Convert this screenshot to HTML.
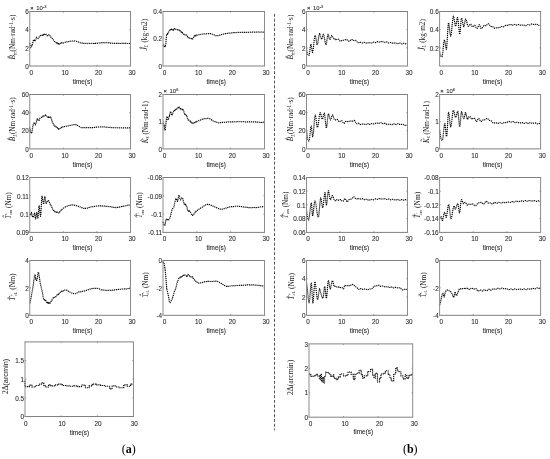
<!DOCTYPE html><html><head><meta charset="utf-8"><style>
html,body{margin:0;padding:0;background:#fff;}svg{display:block}
.h{stroke:#808080;stroke-width:1;fill:none}.v{stroke:#8c8c8c;stroke-width:1;fill:none}.t{stroke:#808080;stroke-width:0.8;fill:none}
.c{fill:none;stroke:#000;stroke-width:1.15;stroke-dasharray:1.2 0.8;stroke-linejoin:round}
.yl{font-family:'Liberation Sans',Arial,sans-serif;font-size:6.4px;fill:#2a2a2a;stroke:#2a2a2a;stroke-width:0.08px;text-anchor:end}.xl{font-family:'Liberation Sans',Arial,sans-serif;font-size:6.4px;fill:#2a2a2a;stroke:#2a2a2a;stroke-width:0.08px;text-anchor:middle}.ml{font-family:'Liberation Sans',Arial,sans-serif;font-size:6.4px;fill:#2a2a2a;stroke:#2a2a2a;stroke-width:0.08px}
.lab{font-family:'Liberation Serif','Times New Roman',serif;fill:#1e1e1e}
.cap{font-family:'Liberation Serif','Times New Roman',serif;font-size:12px;fill:#000}
</style></head><body><svg width="550" height="459" viewBox="0 0 550 459">
<rect width="550" height="459" fill="#fff"/>
<polyline points="29.75,43.09 30.09,45.61 30.42,46.63 30.76,47.40 30.76,47.63 31.09,47.06 31.43,46.58 31.77,45.63 31.77,45.81 32.10,45.11 32.44,44.02 32.74,43.11 32.77,42.63 33.11,41.27 33.44,40.43 33.78,40.31 33.95,39.58 34.12,39.82 34.45,40.42 34.79,39.82 35.12,40.47 35.19,40.79 35.46,39.88 35.80,39.34 36.13,38.65 36.47,37.17 36.70,37.32 36.80,37.54 37.14,37.73 37.47,37.97 37.81,38.13 38.15,38.56 38.48,38.22 38.82,37.74 39.15,36.94 39.49,36.72 39.83,36.27 40.16,35.69 40.50,35.78 40.83,35.40 41.17,35.47 41.50,35.29 41.84,35.48 42.18,35.12 42.28,35.17 42.51,35.32 42.85,34.91 43.18,35.22 43.52,34.42 43.86,34.78 44.19,34.37 44.53,34.27 44.86,34.38 45.20,34.23 45.37,34.13 45.53,33.79 45.87,34.06 46.21,34.91 46.54,35.06 46.88,35.46 47.21,35.80 47.55,35.51 47.89,34.83 48.22,34.92 48.56,35.04 48.89,34.62 49.09,35.26 49.23,35.27 49.56,35.46 49.90,35.62 50.24,36.54 50.57,36.49 50.91,37.12 50.91,37.26 51.24,37.87 51.58,37.95 51.92,37.94 52.25,38.43 52.59,38.74 52.79,38.93 52.92,38.97 53.26,39.67 53.59,40.22 53.93,41.04 54.27,41.52 54.60,41.62 54.67,41.62 54.94,42.09 55.27,42.37 55.61,42.33 55.95,42.58 56.28,42.84 56.62,42.17 56.95,43.08 57.12,42.64 57.29,42.92 57.62,43.49 57.96,43.73 58.30,43.50 58.63,44.17 58.97,43.72 58.97,43.98 59.30,44.28 59.64,43.67 59.97,43.50 60.31,43.29 60.65,43.17 60.85,43.07 60.98,42.39 61.32,42.77 61.65,42.80 61.99,42.44 62.33,42.87 62.66,42.93 63.00,43.13 63.33,42.94 63.67,42.73 64.00,42.70 64.34,42.71 64.68,42.49 65.01,42.39 65.35,42.35 65.68,42.14 66.02,42.17 66.36,42.10 66.69,41.84 67.03,41.87 67.36,41.85 67.70,41.81 68.03,41.58 68.37,41.49 68.71,41.58 69.04,41.52 69.38,41.31 69.71,41.32 70.05,41.34 70.39,41.34 70.72,41.16 71.06,41.24 71.39,41.24 71.73,41.15 72.06,41.04 72.40,40.99 72.74,41.02 73.07,41.12 73.41,40.94 73.74,40.92 74.08,40.99 74.42,40.92 74.75,40.96 75.09,40.96 75.42,41.13 75.76,41.25 76.09,41.27 76.43,41.30 76.77,41.44 77.10,41.59 77.44,41.76 77.44,41.77 77.77,41.69 78.11,41.75 78.45,42.05 78.78,42.20 79.12,42.23 79.45,42.43 79.79,42.58 80.12,42.65 80.46,42.84 80.80,42.76 81.13,42.91 81.47,43.00 81.80,43.02 82.14,43.26 82.48,43.11 82.81,43.31 83.15,43.22 83.48,43.33 83.82,43.38 84.16,43.36 84.49,43.46 84.83,43.48 85.16,43.43 85.50,43.53 85.83,43.40 86.17,43.40 86.51,43.44 86.84,43.45 87.18,43.41 87.51,43.57 87.85,43.55 88.19,43.38 88.52,43.44 88.86,43.41 89.19,43.46 89.53,43.42 89.86,43.47 90.20,43.57 90.54,43.45 90.87,43.51 91.21,43.49 91.54,43.53 91.88,43.37 92.22,43.53 92.55,43.57 92.89,43.50 93.22,43.43 93.56,43.51 93.89,43.52 94.23,43.51 94.23,43.39 94.57,43.58 94.90,43.56 95.24,43.43 95.57,43.44 95.91,43.29 96.25,43.48 96.58,43.40 96.92,43.32 97.25,43.31 97.59,43.14 97.92,43.12 98.26,43.06 98.60,43.09 98.93,42.93 99.27,43.06 99.60,42.91 99.94,42.86 100.27,42.74 100.61,42.83 100.95,42.82 101.28,42.74 101.62,42.61 101.95,42.71 102.29,42.54 102.63,42.67 102.96,42.60 103.30,42.52 103.63,42.57 103.97,42.60 104.31,42.52 104.64,42.66 104.98,42.58 105.31,42.70 105.65,42.71 105.98,42.57 106.32,42.71 106.66,42.67 106.99,42.80 107.33,42.78 107.66,42.79 108.00,42.92 108.34,42.77 108.67,42.92 109.01,42.90 109.34,42.87 109.68,43.06 110.01,43.05 110.35,43.16 110.69,43.13 111.02,43.10 111.36,43.27 111.69,43.10 112.03,43.11 112.37,43.29 112.70,43.23 113.04,43.24 113.37,43.37 113.71,43.25 114.04,43.39 114.38,43.34 114.72,43.27 115.05,43.22 115.39,43.27 115.72,43.44 116.06,43.31 116.39,43.27 116.73,43.30 117.07,43.44 117.40,43.28 117.74,43.43 118.07,43.29 118.41,43.48 118.75,43.39 119.08,43.28 119.42,43.49 119.75,43.36 120.09,43.45 120.42,43.41 120.76,43.32 121.10,43.32 121.43,43.34 121.77,43.34 122.10,43.32 122.44,43.33 122.78,43.53 123.11,43.34 123.45,43.44 123.78,43.36 124.12,43.38 124.46,43.51 124.79,43.55 125.13,43.45 125.46,43.34 125.80,43.57 126.13,43.36 126.47,43.44 126.81,43.47 127.14,43.55 127.48,43.54 127.81,43.49 128.15,43.45 128.49,43.55 128.82,43.55 129.16,43.56 129.49,43.52 129.83,43.38 130.16,43.43 130.50,43.47" class="c"/>
<path d="M29.25 11.50H131.00 M29.25 66.00H131.00" class="h"/>
<path d="M29.75 11.50V66.00 M130.50 11.50V66.00" class="v"/>
<path d="M63.33 11.50v1.2M63.33 66.00v-1.2M96.92 11.50v1.2M96.92 66.00v-1.2M29.75 47.83h1.2M130.50 47.83h-1.2M29.75 29.67h1.2M130.50 29.67h-1.2" class="t"/>
<text x="28.85" y="68.70" class="yl">0</text>
<text x="28.85" y="50.53" class="yl">2</text>
<text x="28.85" y="32.37" class="yl">4</text>
<text x="28.85" y="14.20" class="yl">6</text>
<text x="31.35" y="75.00" class="xl">0</text>
<text x="64.93" y="75.00" class="xl">10</text>
<text x="98.52" y="75.00" class="xl">20</text>
<text x="132.10" y="75.00" class="xl">30</text>
<text x="82.53" y="84.00" class="xl">time(s)</text>
<text x="30.35" y="10.00" class="ml" style="font-size:5.9px">&#215;<tspan dx="0.9"> 10</tspan><tspan font-size="4.0px" dy="-2.3">-3</tspan></text>
<text id="labA1" transform="translate(15.45 37.10) rotate(-90)" class="lab" style="font-size:7.22px" text-anchor="middle"><tspan font-style="italic">B&#x302;</tspan><tspan font-size="70%" dy="1.3" font-style="italic">m</tspan><tspan dy="-1.3">(Nm&#183;rad</tspan><tspan font-size="70%" dy="-2.5">-1</tspan><tspan dy="2.5">&#183;s)</tspan></text>
<polyline points="163.00,44.75 163.34,45.16 163.68,44.89 163.85,45.44 164.01,45.47 164.35,46.80 164.69,46.92 164.73,47.18 165.03,46.62 165.37,46.09 165.47,46.50 165.71,44.46 166.04,40.96 166.38,36.72 166.59,35.07 166.72,35.42 167.06,34.17 167.40,34.46 167.74,33.29 167.84,33.73 168.07,32.82 168.41,32.20 168.75,31.93 169.09,30.75 169.43,30.31 169.70,30.11 169.77,29.50 170.10,29.96 170.44,29.86 170.78,29.04 171.12,29.30 171.46,29.02 171.56,29.43 171.80,28.82 172.13,29.38 172.47,29.81 172.81,29.93 173.15,29.50 173.42,30.19 173.49,29.65 173.83,29.95 174.16,29.28 174.50,28.59 174.84,28.89 174.91,28.94 175.18,28.94 175.52,29.47 175.86,29.21 176.19,29.52 176.53,29.58 176.87,29.93 177.21,29.80 177.55,29.76 177.89,29.86 178.22,29.69 178.36,29.45 178.56,29.89 178.90,29.86 179.24,30.25 179.58,30.96 179.92,30.58 180.25,31.24 180.25,31.25 180.59,31.14 180.93,31.52 181.27,32.19 181.61,31.85 181.95,32.43 182.08,32.65 182.28,32.40 182.62,33.35 182.96,33.43 183.30,33.72 183.64,34.24 183.98,34.19 184.31,34.55 184.65,34.23 184.99,34.87 185.33,34.58 185.67,34.36 186.01,34.61 186.34,35.13 186.41,35.08 186.68,35.00 187.02,35.36 187.36,35.99 187.70,37.14 188.04,36.84 188.27,37.74 188.38,37.76 188.71,37.31 189.05,37.52 189.39,37.79 189.73,38.09 190.07,38.34 190.41,38.57 190.74,38.20 191.08,38.41 191.42,38.93 191.76,39.17 192.00,39.30 192.10,38.79 192.44,38.99 192.77,38.72 193.11,38.09 193.45,37.53 193.79,37.09 194.13,36.84 194.47,35.76 194.80,36.32 195.14,35.54 195.48,35.42 195.72,35.44 195.82,35.85 196.16,35.41 196.50,35.08 196.83,35.08 197.17,35.11 197.51,35.01 197.85,34.79 198.19,34.74 198.53,34.71 198.86,34.61 199.20,34.63 199.54,34.51 199.88,34.53 200.22,34.57 200.56,34.50 200.89,34.29 201.23,34.27 201.57,34.28 201.91,34.29 202.25,34.19 202.59,34.11 202.92,34.09 203.26,34.02 203.60,34.13 203.94,34.06 204.28,33.96 204.62,33.99 204.95,33.91 205.29,33.88 205.63,33.82 205.63,33.84 205.97,33.92 206.31,33.85 206.64,33.82 206.98,33.63 207.32,33.68 207.66,33.62 208.00,33.53 208.34,33.58 208.68,33.49 209.01,33.52 209.35,33.64 209.35,33.61 209.69,33.63 210.03,33.53 210.37,33.61 210.71,33.66 211.04,33.77 211.38,33.87 211.72,34.18 212.06,34.28 212.40,34.24 212.74,34.36 213.07,34.63 213.41,34.66 213.75,34.75 214.09,34.93 214.43,35.05 214.76,35.29 215.10,35.47 215.44,35.56 215.78,35.73 216.12,35.64 216.46,35.78 216.80,35.85 217.13,35.64 217.47,35.68 217.81,35.66 218.15,35.53 218.49,35.59 218.82,35.40 219.16,35.31 219.50,35.30 219.84,35.00 220.18,35.08 220.52,34.81 220.86,34.75 221.19,34.66 221.53,34.54 221.87,34.34 222.21,34.29 222.55,34.20 222.88,34.24 223.22,34.14 223.56,33.99 223.90,34.00 224.24,33.93 224.58,33.77 224.91,33.66 225.25,33.72 225.59,33.60 225.93,33.49 226.27,33.66 226.61,33.60 226.95,33.46 227.28,33.43 227.62,33.40 227.96,33.41 228.30,33.26 228.64,33.24 228.98,33.12 229.31,33.08 229.65,33.10 229.99,33.00 230.33,32.91 230.67,32.95 231.00,33.00 231.34,32.86 231.68,32.95 232.02,32.88 232.36,32.84 232.70,32.86 233.04,32.65 233.37,32.64 233.71,32.78 234.05,32.75 234.39,32.54 234.73,32.68 235.06,32.48 235.40,32.49 235.74,32.46 236.08,32.49 236.42,32.49 236.76,32.60 237.10,32.48 237.43,32.40 237.77,32.42 238.11,32.35 238.45,32.35 238.79,32.43 239.12,32.44 239.46,32.37 239.80,32.39 240.14,32.32 240.48,32.43 240.82,32.37 241.16,32.31 241.49,32.37 241.83,32.30 242.17,32.31 242.51,32.26 242.85,32.40 243.19,32.28 243.52,32.43 243.86,32.30 244.20,32.23 244.54,32.35 244.88,32.35 245.22,32.37 245.55,32.20 245.89,32.34 246.23,32.35 246.57,32.21 246.91,32.24 247.25,32.27 247.58,32.18 247.92,32.32 248.26,32.27 248.60,32.30 248.94,32.20 249.27,32.21 249.61,32.13 249.95,32.16 250.29,32.24 250.63,32.29 250.97,32.10 251.31,32.07 251.64,32.07 251.98,32.15 252.32,32.23 252.66,32.09 253.00,32.15 253.34,32.15 253.67,32.22 254.01,32.06 254.35,32.03 254.69,32.13 255.03,32.09 255.37,32.08 255.70,32.18 256.04,32.16 256.38,32.02 256.72,32.12 257.06,32.17 257.39,32.20 257.73,31.99 258.07,32.17 258.41,31.99 258.75,32.13 259.09,32.11 259.43,32.19 259.76,32.12 260.10,31.99 260.44,32.12 260.78,32.03 261.12,32.16 261.46,31.97 261.79,32.04 262.13,32.12 262.47,32.00 262.81,32.11 263.15,32.12 263.49,32.13 263.82,32.16 264.16,32.05 264.50,31.99" class="c"/>
<path d="M162.50 11.50H265.00 M162.50 66.00H265.00" class="h"/>
<path d="M163.00 11.50V66.00 M264.50 11.50V66.00" class="v"/>
<path d="M196.83 11.50v1.2M196.83 66.00v-1.2M230.67 11.50v1.2M230.67 66.00v-1.2M163.00 38.75h1.2M264.50 38.75h-1.2" class="t"/>
<text x="162.10" y="68.70" class="yl">0</text>
<text x="162.10" y="41.45" class="yl">0.2</text>
<text x="162.10" y="14.20" class="yl">0.4</text>
<text x="164.60" y="75.00" class="xl">0</text>
<text x="198.43" y="75.00" class="xl">10</text>
<text x="232.27" y="75.00" class="xl">20</text>
<text x="266.10" y="75.00" class="xl">30</text>
<text x="216.15" y="84.00" class="xl">time(s)</text>
<text id="labA2" transform="translate(147.05 34.70) rotate(-90)" class="lab" style="font-size:7.22px" text-anchor="middle"><tspan font-style="italic">J&#x302;</tspan><tspan font-size="70%" dy="1.3" font-style="italic">L</tspan><tspan dy="-1.3"> (kg&#183;m2)</tspan></text>
<polyline points="29.75,127.47 30.09,129.80 30.42,131.10 30.76,132.74 31.09,132.74 31.43,132.91 31.77,132.98 32.10,131.12 32.44,128.46 32.77,126.57 32.97,126.16 33.11,125.53 33.44,124.08 33.78,123.29 34.12,123.14 34.22,122.34 34.45,123.40 34.79,123.64 35.12,123.99 35.46,124.87 35.46,124.22 35.80,124.03 36.13,122.98 36.47,121.18 36.80,120.35 37.14,119.29 37.31,118.68 37.47,118.77 37.81,119.34 38.15,120.57 38.48,120.60 38.82,120.71 39.15,120.42 39.49,119.76 39.83,118.34 40.16,117.92 40.40,117.73 40.50,117.62 40.83,117.42 41.17,117.26 41.50,117.36 41.84,116.80 42.18,116.69 42.51,116.59 42.85,116.22 42.85,116.65 43.18,116.26 43.52,116.52 43.86,116.23 44.19,115.50 44.53,115.34 44.86,115.69 45.20,115.42 45.37,114.91 45.53,115.49 45.87,115.39 46.21,115.94 46.54,116.16 46.88,116.61 47.21,116.70 47.55,117.16 47.89,116.81 48.22,116.99 48.46,116.77 48.56,117.50 48.89,116.86 49.23,117.21 49.56,117.17 49.90,117.45 50.24,117.07 50.24,116.85 50.57,117.29 50.91,117.59 51.24,118.66 51.58,119.91 51.92,120.33 52.25,121.96 52.59,122.24 52.92,122.74 53.26,123.93 53.59,123.98 53.93,124.76 54.27,125.85 54.60,125.64 54.94,126.40 55.27,126.10 55.61,126.75 55.95,127.08 56.28,126.88 56.62,127.20 56.95,127.61 57.12,127.76 57.29,127.50 57.62,128.02 57.96,128.86 58.30,128.52 58.63,129.13 58.97,128.68 58.97,128.92 59.30,128.88 59.64,128.74 59.97,128.55 60.31,128.32 60.65,127.97 60.85,127.96 60.98,127.97 61.32,127.34 61.65,127.66 61.99,127.27 62.33,126.93 62.66,126.75 63.00,127.19 63.33,126.89 63.67,126.68 64.00,126.71 64.34,126.51 64.68,126.51 65.01,126.47 65.18,126.45 65.35,126.30 65.68,126.19 66.02,126.24 66.36,126.22 66.69,126.14 67.03,125.97 67.36,125.95 67.70,125.92 68.03,125.89 68.37,125.74 68.71,125.76 69.04,125.57 69.38,125.48 69.71,125.44 70.05,125.47 70.39,125.44 70.72,125.27 71.06,125.24 71.39,125.04 71.73,125.04 72.06,124.94 72.40,124.87 72.74,124.74 73.07,124.76 73.41,124.71 73.74,124.65 74.08,124.63 74.42,124.53 74.75,124.60 75.09,124.53 75.42,124.63 75.76,124.60 76.09,124.79 76.43,124.82 76.77,124.97 77.10,125.35 77.44,125.41 77.77,125.52 78.11,125.81 78.45,126.04 78.78,126.19 79.12,126.44 79.45,126.64 79.79,126.74 80.12,126.90 80.46,127.05 80.80,127.27 81.13,127.50 81.47,127.68 81.80,127.55 82.14,127.76 82.14,127.74 82.48,127.73 82.81,127.60 83.15,127.58 83.48,127.74 83.82,127.72 84.16,127.65 84.49,127.65 84.83,127.58 85.16,127.80 85.50,127.76 85.83,127.79 86.17,127.76 86.51,127.67 86.84,127.76 87.18,127.62 87.51,127.72 87.85,127.62 88.19,127.66 88.52,127.77 88.86,127.67 89.19,127.77 89.53,127.69 89.86,127.61 90.20,127.60 90.54,127.52 90.87,127.63 91.21,127.68 91.54,127.52 91.88,127.55 92.22,127.64 92.55,127.48 92.89,127.58 93.22,127.53 93.56,127.42 93.89,127.43 94.23,127.27 94.57,127.34 94.90,127.37 95.24,127.22 95.57,127.14 95.91,127.11 96.25,127.11 96.58,127.10 96.92,127.19 97.25,127.09 97.59,127.08 97.92,127.00 98.26,126.97 98.60,127.01 98.93,127.03 99.27,126.88 99.60,126.92 99.94,126.95 100.27,127.01 100.61,126.84 100.95,126.86 101.28,126.89 101.62,126.79 101.95,126.89 102.29,126.98 102.63,126.82 102.96,126.88 103.30,126.81 103.63,126.91 103.97,127.03 104.31,126.96 104.64,126.90 104.98,126.95 105.31,127.04 105.65,127.12 105.98,127.06 106.32,127.10 106.66,127.20 106.99,127.08 107.33,127.30 107.66,127.22 108.00,127.23 108.34,127.36 108.67,127.28 109.01,127.28 109.34,127.34 109.68,127.47 110.01,127.37 110.35,127.48 110.69,127.46 111.02,127.55 111.36,127.49 111.69,127.65 112.03,127.71 112.37,127.59 112.70,127.62 113.04,127.69 113.37,127.73 113.71,127.58 114.04,127.73 114.38,127.77 114.72,127.77 115.05,127.70 115.39,127.79 115.72,127.73 116.06,127.66 116.39,127.69 116.73,127.76 117.07,127.76 117.40,127.82 117.74,127.80 118.07,127.70 118.41,127.74 118.75,127.83 119.08,127.77 119.42,127.72 119.75,127.88 120.09,127.78 120.42,127.75 120.76,127.80 121.10,127.76 121.43,127.76 121.77,127.85 122.10,127.88 122.44,127.80 122.78,127.75 123.11,127.82 123.45,127.81 123.78,127.82 124.12,127.78 124.46,127.90 124.79,127.77 125.13,127.74 125.46,127.89 125.80,127.90 126.13,127.79 126.47,127.78 126.81,127.87 127.14,127.95 127.48,127.80 127.81,127.87 128.15,127.81 128.49,127.92 128.82,127.86 129.16,127.84 129.49,127.90 129.83,127.87 130.16,127.80 130.50,127.85" class="c"/>
<path d="M29.25 94.50H131.00 M29.25 148.90H131.00" class="h"/>
<path d="M29.75 94.50V148.90 M130.50 94.50V148.90" class="v"/>
<path d="M63.33 94.50v1.2M63.33 148.90v-1.2M96.92 94.50v1.2M96.92 148.90v-1.2M29.75 130.77h1.2M130.50 130.77h-1.2M29.75 112.63h1.2M130.50 112.63h-1.2" class="t"/>
<text x="28.85" y="151.60" class="yl">0</text>
<text x="28.85" y="133.47" class="yl">20</text>
<text x="28.85" y="115.33" class="yl">40</text>
<text x="28.85" y="97.20" class="yl">60</text>
<text x="31.35" y="157.90" class="xl">0</text>
<text x="64.93" y="157.90" class="xl">10</text>
<text x="98.52" y="157.90" class="xl">20</text>
<text x="132.10" y="157.90" class="xl">30</text>
<text x="82.53" y="166.90" class="xl">time(s)</text>
<text id="labA3" transform="translate(15.45 119.30) rotate(-90)" class="lab" style="font-size:7.22px" text-anchor="middle"><tspan font-style="italic">B&#x302;</tspan><tspan font-size="70%" dy="1.3" font-style="italic">L</tspan><tspan dy="-1.3">(Nm&#183;rad</tspan><tspan font-size="70%" dy="-2.5">-1</tspan><tspan dy="2.5">&#183;s)</tspan></text>
<polyline points="163.00,122.65 163.34,123.44 163.68,124.28 164.01,125.65 164.01,125.19 164.35,127.26 164.69,129.68 165.00,129.85 165.03,130.55 165.37,128.68 165.71,125.30 165.98,122.67 166.04,121.93 166.38,119.32 166.72,117.37 166.96,116.46 167.06,116.87 167.40,117.20 167.74,119.04 168.07,120.01 168.21,120.00 168.41,119.32 168.75,118.29 169.09,116.68 169.43,115.31 169.43,115.93 169.77,114.38 170.10,113.19 170.44,111.70 170.68,111.50 170.78,112.06 171.12,113.16 171.46,113.86 171.80,115.57 171.93,115.49 172.13,114.83 172.47,114.56 172.81,113.09 173.15,112.06 173.42,112.06 173.49,111.77 173.83,110.79 174.16,111.05 174.50,110.19 174.84,110.76 175.18,110.28 175.52,110.09 175.86,109.30 175.86,109.36 176.19,109.47 176.53,109.01 176.87,109.06 177.21,108.23 177.55,108.00 177.89,107.45 178.22,107.55 178.56,107.78 178.90,107.08 179.00,107.55 179.24,107.07 179.58,108.08 179.92,108.25 180.25,108.40 180.59,109.35 180.83,109.54 180.93,108.87 181.27,108.84 181.61,108.96 181.95,109.20 182.28,109.59 182.62,109.51 182.69,109.03 182.96,108.97 183.30,110.18 183.64,111.15 183.98,111.93 184.31,113.18 184.55,113.97 184.65,113.36 184.99,113.89 185.33,114.68 185.67,114.34 186.01,114.62 186.34,115.06 186.41,115.69 186.68,115.60 187.02,116.40 187.36,117.84 187.70,118.89 188.04,119.66 188.27,119.74 188.38,120.29 188.71,119.94 189.05,120.48 189.39,120.65 189.73,121.02 190.07,120.92 190.41,121.11 190.74,122.14 190.74,121.52 191.08,122.07 191.42,122.89 191.76,122.79 192.10,123.23 192.44,123.63 192.60,123.22 192.77,123.16 193.11,123.58 193.45,123.13 193.79,122.61 194.13,122.54 194.47,122.69 194.80,122.58 195.14,122.19 195.48,121.77 195.82,122.18 196.16,121.46 196.50,121.81 196.83,121.35 197.17,121.38 197.51,121.20 197.85,120.99 198.19,120.83 198.53,120.72 198.86,120.61 199.20,120.45 199.44,120.38 199.54,120.21 199.88,120.14 200.22,120.08 200.56,119.86 200.89,119.84 201.23,119.60 201.57,119.42 201.91,119.42 202.25,119.20 202.59,119.13 202.92,119.06 203.16,119.06 203.26,118.90 203.60,118.98 203.94,118.85 204.28,118.74 204.62,118.68 204.95,118.77 205.29,118.71 205.63,118.57 205.97,118.49 206.31,118.60 206.64,118.36 206.98,118.35 207.32,118.43 207.49,118.46 207.66,118.33 208.00,118.40 208.34,118.42 208.68,118.53 209.01,118.60 209.35,118.69 209.69,118.79 210.03,118.95 210.37,119.03 210.71,119.35 211.04,119.48 211.38,119.65 211.72,120.02 212.06,120.30 212.40,120.44 212.74,120.58 213.07,120.92 213.41,121.11 213.75,121.30 214.09,121.41 214.43,121.53 214.76,121.60 214.93,121.64 215.10,121.66 215.44,121.96 215.78,122.03 216.12,122.09 216.46,122.18 216.80,122.34 217.13,122.55 217.47,122.53 217.81,122.57 218.15,122.71 218.49,122.74 218.82,122.83 219.16,122.80 219.50,122.76 219.84,122.85 220.18,122.80 220.52,122.60 220.86,122.59 221.19,122.58 221.53,122.46 221.87,122.57 222.21,122.53 222.55,122.37 222.88,122.47 223.22,122.35 223.56,122.24 223.90,122.30 224.24,122.28 224.58,122.27 224.91,122.31 225.25,122.27 225.59,122.14 225.93,122.12 226.27,122.01 226.61,122.08 226.95,122.01 227.28,121.97 227.62,122.11 227.96,121.91 228.30,121.92 228.64,122.02 228.98,121.98 229.31,121.93 229.65,122.00 229.99,121.85 230.33,121.83 230.67,121.88 231.00,121.77 231.34,121.89 231.68,121.93 232.02,121.89 232.36,121.89 232.70,121.70 233.04,121.76 233.37,121.86 233.71,121.84 234.05,121.77 234.39,121.77 234.73,121.68 235.06,121.67 235.40,121.62 235.74,121.80 236.08,121.66 236.42,121.82 236.76,121.59 237.10,121.77 237.43,121.71 237.77,121.60 238.11,121.74 238.45,121.75 238.79,121.75 239.12,121.75 239.46,121.74 239.80,121.76 240.14,121.68 240.48,121.81 240.82,121.70 241.16,121.66 241.49,121.82 241.83,121.66 242.17,121.70 242.51,121.76 242.85,121.78 243.19,121.68 243.52,121.62 243.86,121.74 244.20,121.75 244.54,121.78 244.88,121.68 245.22,121.81 245.55,121.80 245.89,121.83 246.23,121.81 246.57,121.80 246.91,121.77 247.25,121.85 247.58,121.71 247.92,121.82 248.26,121.85 248.60,121.85 248.94,121.71 249.27,121.76 249.61,121.91 249.95,121.88 250.29,121.75 250.63,121.83 250.97,121.91 251.31,121.93 251.64,121.87 251.98,121.78 252.32,121.82 252.66,121.78 253.00,121.83 253.34,121.81 253.67,121.97 254.01,121.98 254.35,121.94 254.69,122.05 255.03,121.89 255.37,121.92 255.70,122.03 256.04,122.02 256.38,121.94 256.72,122.14 257.06,122.09 257.39,122.10 257.73,122.06 258.07,122.13 258.41,122.03 258.75,122.10 259.09,122.19 259.43,122.20 259.76,122.20 260.10,122.12 260.44,122.20 260.78,122.37 261.12,122.38 261.46,122.37 261.79,122.22 262.13,122.25 262.47,122.30 262.81,122.46 263.15,122.35 263.49,122.38 263.82,122.41 264.16,122.54 264.50,122.52" class="c"/>
<path d="M162.50 94.50H265.00 M162.50 148.90H265.00" class="h"/>
<path d="M163.00 94.50V148.90 M264.50 94.50V148.90" class="v"/>
<path d="M196.83 94.50v1.2M196.83 148.90v-1.2M230.67 94.50v1.2M230.67 148.90v-1.2M163.00 121.70h1.2M264.50 121.70h-1.2" class="t"/>
<text x="162.10" y="151.60" class="yl">0</text>
<text x="162.10" y="124.40" class="yl">1</text>
<text x="162.10" y="97.20" class="yl">2</text>
<text x="164.60" y="157.90" class="xl">0</text>
<text x="198.43" y="157.90" class="xl">10</text>
<text x="232.27" y="157.90" class="xl">20</text>
<text x="266.10" y="157.90" class="xl">30</text>
<text x="216.15" y="166.90" class="xl">time(s)</text>
<text x="163.60" y="93.00" class="ml" style="font-size:5.9px">&#215;<tspan dx="0.9"> 10</tspan><tspan font-size="4.0px" dy="-2.3">6</tspan></text>
<text id="labA4" transform="translate(148.15 122.15) rotate(-90)" class="lab" style="font-size:7.30px" text-anchor="middle"><tspan font-style="italic">K&#x302;</tspan><tspan font-size="70%" dy="1.3" font-style="italic">s</tspan><tspan dy="-1.3"> (Nm&#183;rad-1)</tspan></text>
<polyline points="29.75,213.69 30.09,214.15 30.42,214.55 30.76,215.33 30.76,214.66 31.09,213.84 31.43,212.36 31.77,213.19 32.10,215.44 32.44,217.06 32.77,216.41 33.11,217.26 33.44,216.44 33.54,216.54 33.78,216.36 34.12,213.97 34.45,213.63 34.45,213.12 34.79,213.83 35.12,216.08 35.46,218.31 35.66,219.01 35.80,218.21 36.13,216.22 36.47,213.67 36.80,212.41 37.14,214.04 37.47,216.59 37.81,218.19 37.81,218.65 38.15,216.79 38.48,212.20 38.82,208.57 39.15,205.94 39.15,206.52 39.49,208.26 39.83,211.60 40.16,215.36 40.50,216.45 40.83,214.67 41.17,208.76 41.50,202.13 41.84,197.38 42.04,196.04 42.18,196.84 42.51,198.21 42.85,200.81 43.18,202.73 43.52,204.15 43.52,203.80 43.86,203.16 44.19,200.04 44.53,197.68 44.86,196.64 45.20,197.84 45.53,200.53 45.87,202.01 46.21,203.54 46.54,202.85 46.88,202.62 47.21,201.84 47.55,201.01 47.89,200.76 48.22,200.42 48.56,200.48 48.89,201.16 49.23,201.38 49.56,202.73 49.90,202.87 50.24,204.37 50.57,204.46 50.91,205.95 51.24,205.84 51.58,206.46 51.92,207.29 52.25,208.61 52.59,208.94 52.92,209.67 53.26,210.63 53.59,210.49 53.93,211.21 54.27,211.21 54.60,211.10 54.94,211.86 55.27,211.43 55.61,211.43 55.95,211.85 56.28,212.06 56.62,211.57 56.95,211.57 57.29,212.44 57.62,212.12 57.96,212.38 58.30,212.45 58.63,212.89 58.97,212.57 58.97,212.87 59.30,212.54 59.64,211.83 59.97,211.78 60.31,211.60 60.65,210.85 60.98,210.34 61.32,209.70 61.65,210.00 61.99,209.41 62.33,209.04 62.66,208.78 63.00,208.53 63.33,208.28 63.67,208.00 64.00,207.78 64.34,207.44 64.68,207.25 65.01,207.08 65.35,206.99 65.68,206.72 66.02,206.61 66.36,206.56 66.69,206.41 67.03,206.26 67.36,206.12 67.70,205.99 68.03,205.78 68.37,205.66 68.71,205.53 69.04,205.44 69.38,205.46 69.71,205.37 70.05,205.16 70.39,205.27 70.72,205.11 71.06,205.08 71.39,204.93 71.73,205.07 72.06,204.87 72.40,204.89 72.57,204.94 72.74,204.95 73.07,204.98 73.41,205.10 73.74,204.94 74.08,205.14 74.42,205.15 74.75,205.31 75.09,205.36 75.42,205.49 75.76,205.60 76.09,205.68 76.43,205.65 76.77,205.85 77.10,206.01 77.44,206.13 77.77,206.27 78.11,206.27 78.45,206.29 78.78,206.55 79.12,206.55 79.12,206.63 79.45,206.60 79.79,206.78 80.12,206.97 80.46,206.99 80.80,207.17 81.13,207.28 81.47,207.59 81.80,207.71 82.14,207.81 82.48,207.92 82.81,208.14 83.15,208.09 83.48,208.29 83.82,208.22 84.16,208.40 84.49,208.35 84.83,208.32 84.83,208.52 85.16,208.37 85.50,208.50 85.83,208.39 86.17,208.34 86.51,208.27 86.84,208.27 87.18,208.01 87.51,208.09 87.85,207.84 88.19,207.68 88.52,207.76 88.86,207.46 89.19,207.44 89.53,207.41 89.86,207.17 90.20,207.17 90.54,207.05 90.87,206.96 91.21,206.75 91.54,206.79 91.88,206.76 92.22,206.54 92.38,206.70 92.55,206.68 92.89,206.49 93.22,206.59 93.56,206.54 93.89,206.31 94.23,206.40 94.57,206.41 94.90,206.34 95.24,206.14 95.57,206.16 95.91,206.16 96.25,206.08 96.58,206.05 96.92,205.95 97.25,205.90 97.59,205.94 97.92,205.94 98.26,205.95 98.60,206.01 98.93,205.80 99.27,205.85 99.60,205.96 99.94,205.94 100.27,205.78 100.61,205.91 100.95,205.78 101.28,205.98 101.62,205.84 101.95,205.93 102.29,205.92 102.63,205.95 102.96,205.91 103.30,205.97 103.63,205.98 103.97,206.08 104.31,206.07 104.64,206.14 104.98,206.16 105.31,206.23 105.65,206.33 105.98,206.27 106.32,206.31 106.66,206.36 106.99,206.39 107.33,206.39 107.66,206.39 108.00,206.50 108.34,206.47 108.67,206.60 109.01,206.68 109.34,206.70 109.68,206.74 110.01,206.66 110.35,206.67 110.69,206.76 111.02,206.90 111.36,206.86 111.69,206.91 112.03,207.17 112.37,207.08 112.70,207.07 113.04,207.23 113.37,207.32 113.71,207.32 114.04,207.29 114.38,207.42 114.72,207.35 115.05,207.53 115.39,207.59 115.72,207.40 116.06,207.53 116.06,207.59 116.39,207.54 116.73,207.41 117.07,207.36 117.40,207.41 117.74,207.27 118.07,207.39 118.41,207.25 118.75,207.13 119.08,207.16 119.42,206.96 119.75,206.94 120.09,206.86 120.42,206.68 120.76,206.75 121.10,206.64 121.43,206.45 121.77,206.42 122.10,206.32 122.44,206.39 122.78,206.27 122.78,206.33 123.11,206.23 123.45,206.18 123.78,206.01 124.12,206.07 124.46,205.90 124.79,205.95 125.13,205.87 125.46,205.77 125.80,205.63 126.13,205.67 126.47,205.62 126.81,205.58 127.14,205.39 127.48,205.37 127.81,205.39 128.15,205.40 128.49,205.20 128.82,205.30 129.16,205.27 129.49,205.01 129.83,205.10 130.16,204.98 130.50,204.87" class="c"/>
<path d="M29.25 177.50H131.00 M29.25 232.40H131.00" class="h"/>
<path d="M29.75 177.50V232.40 M130.50 177.50V232.40" class="v"/>
<path d="M63.33 177.50v1.2M63.33 232.40v-1.2M96.92 177.50v1.2M96.92 232.40v-1.2M29.75 214.10h1.2M130.50 214.10h-1.2M29.75 195.80h1.2M130.50 195.80h-1.2" class="t"/>
<text x="28.85" y="235.10" class="yl">0.09</text>
<text x="28.85" y="216.80" class="yl">0.1</text>
<text x="28.85" y="198.50" class="yl">0.11</text>
<text x="28.85" y="180.20" class="yl">0.12</text>
<text x="31.35" y="241.40" class="xl">0</text>
<text x="64.93" y="241.40" class="xl">10</text>
<text x="98.52" y="241.40" class="xl">20</text>
<text x="132.10" y="241.40" class="xl">30</text>
<text x="82.53" y="250.40" class="xl">time(s)</text>
<text id="labA5" transform="translate(10.65 205.55) rotate(-90)" class="lab" style="font-size:7.22px" text-anchor="middle"><tspan font-style="italic">T&#x302;</tspan><tspan font-size="62%" dy="-2.6">+</tspan><tspan font-size="58%" dx="-2.5" dy="4.0">cm</tspan><tspan dy="-1.4"> (Nm)</tspan></text>
<polyline points="163.00,221.90 163.34,223.25 163.68,223.73 164.01,224.80 164.35,224.79 164.69,224.75 164.89,225.23 165.03,225.15 165.37,223.19 165.71,220.93 166.04,219.57 166.21,219.14 166.38,219.60 166.72,219.20 167.06,219.28 167.40,219.43 167.74,219.76 168.07,219.77 168.41,220.40 168.75,219.90 169.09,219.36 169.43,219.12 169.77,218.19 170.10,217.58 170.44,216.08 170.78,214.74 171.12,213.41 171.46,212.08 171.80,210.43 172.13,209.80 172.47,209.03 172.81,208.49 173.15,208.21 173.49,207.91 173.83,207.21 174.16,205.68 174.50,203.60 174.84,202.10 175.18,200.85 175.52,199.93 175.86,198.78 175.86,199.39 176.19,199.64 176.53,199.43 176.87,200.76 177.21,200.98 177.55,201.42 177.89,200.29 178.22,198.16 178.56,196.19 178.90,195.12 179.24,195.34 179.58,196.58 179.92,198.63 180.25,199.26 180.59,199.90 180.93,199.46 181.27,199.09 181.61,198.66 181.95,197.77 182.28,197.75 182.62,198.33 182.96,199.19 183.30,200.93 183.64,202.16 183.98,203.21 184.31,204.24 184.31,204.08 184.65,204.23 184.99,204.13 185.33,205.00 185.67,204.42 186.01,204.85 186.01,205.03 186.34,205.93 186.68,206.38 187.02,207.44 187.36,209.20 187.70,210.44 188.04,210.58 188.38,211.32 188.71,210.88 189.05,211.52 189.39,210.88 189.73,211.70 190.07,212.25 190.41,212.23 190.74,213.37 191.08,213.81 191.42,214.18 191.76,214.47 192.10,215.39 192.44,215.27 192.44,215.42 192.77,215.03 193.11,214.65 193.45,214.38 193.79,214.44 194.13,213.50 194.47,213.14 194.80,212.89 195.14,212.12 195.48,211.86 195.82,211.46 195.82,211.79 196.16,211.15 196.50,210.76 196.83,210.79 197.17,210.33 197.51,210.18 197.85,209.92 198.19,209.61 198.53,209.46 198.86,209.23 199.20,208.94 199.54,208.69 199.88,208.43 200.22,208.39 200.56,208.20 200.89,207.84 201.23,207.65 201.57,207.53 201.91,207.35 202.25,207.15 202.59,206.91 202.92,206.67 203.26,206.43 203.60,206.08 203.94,205.97 204.28,205.81 204.62,205.51 204.95,205.31 205.29,205.16 205.63,205.03 205.97,204.75 206.31,204.79 206.64,204.66 206.98,204.46 207.32,204.40 207.66,204.34 208.00,204.38 208.34,204.52 208.68,204.44 209.01,204.63 209.35,204.55 209.69,204.67 210.03,204.85 210.37,204.89 210.71,205.02 211.04,205.28 211.38,205.34 211.72,205.54 212.06,205.57 212.40,205.72 212.74,206.01 213.07,206.10 213.41,206.16 213.75,206.40 214.09,206.50 214.43,206.66 214.76,206.95 215.10,207.01 215.44,207.20 215.78,207.32 216.12,207.48 216.46,207.68 216.80,207.75 217.13,207.92 217.47,208.09 217.81,208.17 218.15,208.30 218.49,208.44 218.82,208.75 219.16,208.73 219.50,208.87 219.84,209.03 220.18,209.11 220.52,209.15 220.86,209.23 221.19,209.17 221.53,209.08 221.87,209.15 222.21,209.08 222.55,209.12 222.88,208.93 223.22,208.95 223.56,208.72 223.90,208.72 224.24,208.61 224.58,208.45 224.91,208.51 225.25,208.40 225.59,208.16 225.93,208.15 226.27,208.07 226.61,207.88 226.95,207.72 227.28,207.68 227.62,207.51 227.96,207.44 228.30,207.37 228.64,207.19 228.98,207.19 229.31,207.08 229.65,207.04 229.99,206.92 230.33,206.97 230.67,206.79 231.00,206.82 231.34,206.78 231.68,206.62 232.02,206.75 232.36,206.65 232.70,206.50 233.04,206.63 233.37,206.55 233.71,206.56 234.05,206.47 234.39,206.40 234.73,206.43 235.06,206.30 235.40,206.29 235.74,206.25 236.08,206.23 236.42,206.35 236.76,206.24 237.10,206.24 237.43,206.20 237.77,206.20 238.11,206.18 238.45,206.36 238.79,206.34 239.12,206.31 239.46,206.37 239.80,206.46 240.14,206.39 240.48,206.42 240.82,206.51 241.16,206.55 241.49,206.69 241.83,206.75 242.17,206.80 242.51,206.81 242.85,206.83 243.19,206.80 243.52,207.02 243.86,207.06 244.20,207.03 244.54,207.12 244.88,207.20 245.22,207.10 245.55,207.20 245.89,207.33 246.23,207.20 246.57,207.23 246.91,207.45 247.25,207.48 247.58,207.33 247.92,207.49 248.26,207.55 248.60,207.60 248.94,207.61 249.27,207.63 249.61,207.67 249.95,207.69 250.29,207.59 250.63,207.62 250.97,207.65 251.31,207.79 251.64,207.69 251.98,207.71 252.32,207.79 252.66,207.59 253.00,207.60 253.34,207.61 253.67,207.75 254.01,207.69 254.35,207.54 254.69,207.51 255.03,207.52 255.37,207.67 255.70,207.54 256.04,207.61 256.38,207.58 256.72,207.58 257.06,207.46 257.39,207.37 257.73,207.39 258.07,207.44 258.41,207.42 258.75,207.25 259.09,207.23 259.43,207.26 259.76,207.12 260.10,207.04 260.44,207.00 260.78,206.99 261.12,206.88 261.46,206.94 261.79,206.86 262.13,206.85 262.47,206.74 262.81,206.61 263.15,206.48 263.49,206.41 263.82,206.48 264.16,206.34 264.50,206.14" class="c"/>
<path d="M162.50 177.50H265.00 M162.50 232.40H265.00" class="h"/>
<path d="M163.00 177.50V232.40 M264.50 177.50V232.40" class="v"/>
<path d="M196.83 177.50v1.2M196.83 232.40v-1.2M230.67 177.50v1.2M230.67 232.40v-1.2M163.00 214.10h1.2M264.50 214.10h-1.2M163.00 195.80h1.2M264.50 195.80h-1.2" class="t"/>
<text x="162.10" y="235.10" class="yl">-0.11</text>
<text x="162.10" y="216.80" class="yl">-0.1</text>
<text x="162.10" y="198.50" class="yl">-0.09</text>
<text x="162.10" y="180.20" class="yl">-0.08</text>
<text x="164.60" y="241.40" class="xl">0</text>
<text x="198.43" y="241.40" class="xl">10</text>
<text x="232.27" y="241.40" class="xl">20</text>
<text x="266.10" y="241.40" class="xl">30</text>
<text x="216.15" y="250.40" class="xl">time(s)</text>
<text id="labA6" transform="translate(142.45 205.10) rotate(-90)" class="lab" style="font-size:7.22px" text-anchor="middle"><tspan font-style="italic">T&#x302;</tspan><tspan font-size="62%" dy="-2.6">-</tspan><tspan font-size="58%" dx="-2.5" dy="4.0">cm</tspan><tspan dy="-1.4"> (Nm)</tspan></text>
<polyline points="29.75,303.24 30.09,302.09 30.42,300.67 30.76,299.17 31.09,297.64 31.16,296.93 31.43,295.75 31.77,293.46 32.10,292.16 32.44,290.14 32.77,287.95 33.11,286.03 33.44,284.13 33.78,280.96 34.12,278.36 34.45,276.15 34.79,275.17 34.96,274.47 35.12,274.75 35.46,276.99 35.80,279.38 35.83,278.86 36.13,279.90 36.47,280.32 36.80,280.39 37.14,279.37 37.47,277.23 37.81,274.18 38.15,272.51 38.35,272.21 38.48,272.09 38.82,273.70 39.15,275.68 39.49,278.01 39.83,280.44 39.99,281.58 40.16,282.70 40.50,284.37 40.83,285.56 41.17,286.63 41.27,287.59 41.50,288.91 41.84,289.64 42.18,291.41 42.51,292.67 42.51,293.18 42.85,294.60 43.18,297.39 43.52,298.59 43.79,299.52 43.86,299.34 44.19,299.70 44.53,299.65 44.86,300.62 45.20,300.26 45.53,300.45 45.67,300.65 45.87,300.67 46.21,301.13 46.54,301.47 46.88,302.45 47.21,302.67 47.55,302.36 47.55,302.86 47.89,302.32 48.22,302.97 48.56,303.38 48.89,302.91 49.23,302.93 49.43,303.51 49.56,303.36 49.90,303.46 50.24,302.39 50.57,301.94 50.91,301.38 51.24,301.17 51.58,300.44 51.92,300.38 52.25,299.31 52.59,299.06 52.92,298.59 53.26,297.80 53.59,298.05 53.93,298.06 54.27,297.29 54.60,297.19 54.94,296.83 55.27,297.14 55.61,296.79 55.95,296.67 56.28,295.92 56.62,295.63 56.95,295.12 57.29,294.92 57.62,295.43 57.96,294.79 58.30,294.31 58.63,293.67 58.97,293.97 59.30,292.76 59.64,292.92 59.97,292.53 60.31,292.33 60.65,292.09 60.65,292.03 60.98,291.71 61.32,291.41 61.65,291.57 61.99,290.81 62.33,290.79 62.66,291.11 63.00,291.07 63.23,290.79 63.33,290.50 63.67,290.55 64.00,290.46 64.34,290.22 64.68,290.10 65.01,290.00 65.35,290.00 65.68,289.88 65.68,289.87 66.02,290.10 66.36,290.07 66.69,290.21 67.03,290.33 67.36,290.47 67.70,290.68 68.03,290.90 68.37,291.26 68.71,291.48 69.04,291.70 69.04,291.71 69.38,291.69 69.71,291.85 70.05,292.19 70.39,292.29 70.72,292.62 71.06,292.69 71.39,292.84 71.73,292.98 72.06,293.06 72.06,293.12 72.40,293.13 72.74,293.41 73.07,293.47 73.41,293.57 73.74,293.67 74.08,293.69 74.42,293.80 74.75,293.80 75.09,293.77 75.42,293.68 75.42,293.79 75.76,293.75 76.09,293.67 76.43,293.50 76.77,293.22 77.10,292.84 77.44,292.59 77.77,292.54 78.11,292.36 78.45,292.12 78.78,291.97 79.12,291.91 79.45,291.86 79.79,291.99 80.12,291.83 80.46,291.80 80.80,291.83 81.13,291.66 81.47,291.67 81.80,291.62 82.14,291.51 82.48,291.37 82.81,291.35 83.15,291.20 83.48,291.16 83.82,291.08 84.16,290.94 84.49,291.02 84.83,290.86 85.16,290.81 85.50,290.71 85.83,290.47 86.17,290.34 86.51,290.43 86.84,290.23 87.18,290.17 87.51,290.11 87.85,289.88 88.19,289.82 88.52,289.63 88.86,289.48 89.19,289.32 89.53,289.24 89.86,289.12 90.20,289.12 90.54,288.95 90.87,288.91 91.21,288.70 91.54,288.60 91.88,288.61 92.22,288.48 92.55,288.54 92.89,288.43 93.22,288.40 93.22,288.51 93.56,288.38 93.89,288.50 94.23,288.42 94.57,288.35 94.90,288.48 95.24,288.47 95.57,288.36 95.91,288.44 96.25,288.44 96.58,288.50 96.92,288.38 97.25,288.46 97.59,288.56 97.92,288.34 98.26,288.52 98.60,288.52 98.93,288.66 99.27,288.76 99.60,288.96 99.94,289.15 100.27,289.42 100.61,289.59 100.95,289.76 101.28,289.90 101.62,289.87 101.95,290.02 102.29,290.08 102.63,289.94 102.96,290.11 103.30,290.10 103.63,290.05 103.97,290.17 104.31,290.21 104.64,290.23 104.98,290.10 105.31,290.33 105.65,290.22 105.98,290.34 106.32,290.21 106.66,290.33 106.99,290.22 107.33,290.35 107.66,290.38 108.00,290.33 108.34,290.41 108.67,290.36 109.01,290.27 109.34,290.26 109.34,290.26 109.68,290.33 110.01,290.45 110.35,290.31 110.69,290.40 111.02,290.34 111.36,290.33 111.69,290.29 112.03,290.16 112.37,290.28 112.70,290.14 113.04,290.22 113.37,289.97 113.71,289.95 114.04,289.91 114.38,290.00 114.72,289.82 115.05,289.84 115.39,289.82 115.72,289.77 116.06,289.68 116.39,289.76 116.73,289.62 117.07,289.52 117.40,289.56 117.74,289.42 118.07,289.51 118.41,289.37 118.75,289.49 119.08,289.28 119.42,289.30 119.75,289.25 120.09,289.30 120.42,289.23 120.76,289.22 121.10,289.19 121.43,289.19 121.77,289.08 122.10,289.07 122.44,289.03 122.78,288.97 123.11,289.05 123.45,289.09 123.78,289.06 124.12,289.04 124.46,288.82 124.79,288.93 125.13,288.76 125.46,288.90 125.80,288.88 126.13,288.77 126.47,288.86 126.81,288.71 127.14,288.71 127.48,288.63 127.81,288.72 128.15,288.63 128.49,288.59 128.82,288.55 129.16,288.60 129.49,288.42 129.83,288.53 130.16,288.38 130.50,288.38" class="c"/>
<path d="M29.25 260.50H131.00 M29.25 315.30H131.00" class="h"/>
<path d="M29.75 260.50V315.30 M130.50 260.50V315.30" class="v"/>
<path d="M63.33 260.50v1.2M63.33 315.30v-1.2M96.92 260.50v1.2M96.92 315.30v-1.2M29.75 287.90h1.2M130.50 287.90h-1.2" class="t"/>
<text x="28.85" y="318.00" class="yl">0</text>
<text x="28.85" y="290.60" class="yl">2</text>
<text x="28.85" y="263.20" class="yl">4</text>
<text x="31.35" y="324.30" class="xl">0</text>
<text x="64.93" y="324.30" class="xl">10</text>
<text x="98.52" y="324.30" class="xl">20</text>
<text x="132.10" y="324.30" class="xl">30</text>
<text x="82.53" y="333.30" class="xl">time(s)</text>
<text id="labA7" transform="translate(15.25 287.05) rotate(-90)" class="lab" style="font-size:7.58px" text-anchor="middle"><tspan font-style="italic">T&#x302;</tspan><tspan font-size="62%" dy="-2.6">+</tspan><tspan font-size="58%" dx="-2.5" dy="4.0">cL</tspan><tspan dy="-1.4"> (Nm)</tspan></text>
<polyline points="163.00,261.72 163.27,262.85 163.34,263.35 163.68,263.11 164.01,263.45 164.15,264.09 164.35,264.33 164.69,266.57 165.03,269.08 165.03,268.75 165.37,272.32 165.71,275.33 166.04,279.35 166.38,283.89 166.69,288.46 166.72,288.00 167.06,290.27 167.40,291.43 167.57,292.25 167.74,293.00 168.07,294.69 168.41,295.84 168.58,296.91 168.75,297.84 169.09,299.47 169.43,301.80 169.77,302.15 169.83,302.63 170.10,302.76 170.44,302.31 170.78,301.35 171.12,300.94 171.12,300.92 171.46,300.36 171.80,299.85 172.13,299.26 172.37,298.06 172.47,298.15 172.81,296.67 173.15,296.25 173.49,294.65 173.62,294.06 173.83,293.44 174.16,292.33 174.50,291.27 174.84,291.02 175.18,289.90 175.52,288.48 175.86,287.95 176.19,286.77 176.19,286.42 176.53,285.88 176.87,283.63 177.21,282.47 177.41,281.61 177.55,281.35 177.89,280.93 178.22,279.94 178.56,278.78 178.90,278.64 179.24,278.00 179.24,277.80 179.58,277.78 179.92,277.24 180.25,277.54 180.59,276.89 180.93,276.52 181.27,276.99 181.61,276.13 181.95,276.35 182.28,276.25 182.62,275.89 182.96,275.90 183.10,275.23 183.30,275.24 183.64,275.33 183.98,274.74 184.31,275.42 184.65,275.06 184.99,275.05 185.33,275.11 185.67,275.41 186.01,275.60 186.34,275.96 186.68,276.39 186.89,276.24 187.02,276.71 187.36,275.72 187.70,275.64 188.04,274.53 188.38,274.79 188.71,275.45 189.05,275.48 189.39,275.57 189.73,276.12 190.07,276.03 190.41,275.96 190.74,276.83 191.08,276.86 191.42,276.88 191.76,276.64 191.93,276.95 192.10,276.70 192.44,277.01 192.77,278.28 193.11,278.30 193.45,278.60 193.79,279.53 194.13,279.66 194.47,280.15 194.80,280.01 195.14,280.66 195.48,280.95 195.82,281.15 196.16,281.31 196.36,282.07 196.50,282.04 196.83,282.07 197.17,282.23 197.51,282.53 197.85,282.66 198.19,282.72 198.53,282.96 198.86,283.01 198.86,283.07 199.20,283.04 199.54,282.86 199.88,282.90 200.22,282.81 200.56,282.79 200.89,282.85 201.23,282.77 201.57,282.68 201.91,282.72 202.25,282.67 202.59,282.52 202.92,282.20 203.26,282.11 203.60,281.92 203.94,281.88 204.28,281.90 204.62,281.67 204.95,281.74 205.29,281.64 205.63,281.61 205.97,281.64 206.31,281.49 206.64,281.46 206.98,281.53 207.32,281.38 207.66,281.37 207.66,281.44 208.00,281.44 208.34,281.42 208.68,281.41 209.01,281.55 209.35,281.44 209.69,281.42 210.03,281.53 210.37,281.54 210.71,281.51 211.04,281.57 211.38,281.38 211.72,281.44 212.06,281.50 212.40,281.51 212.74,281.30 213.07,281.38 213.41,281.21 213.75,281.21 214.09,281.24 214.43,281.20 214.76,281.01 215.10,281.02 215.44,281.16 215.78,281.07 215.78,281.07 216.12,281.01 216.46,281.11 216.80,281.15 217.13,281.22 217.47,281.38 217.81,281.59 218.15,281.74 218.49,281.92 218.82,282.05 219.16,282.26 219.50,282.54 219.84,282.73 220.18,282.90 220.52,282.91 220.86,283.16 221.19,283.38 221.53,283.49 221.87,283.74 222.21,284.05 222.55,284.26 222.88,284.50 223.22,284.60 223.56,284.83 223.90,285.21 224.24,285.40 224.58,285.52 224.91,285.67 225.25,285.90 225.59,286.13 225.93,286.19 226.27,286.35 226.61,286.30 226.94,286.43 226.95,286.31 227.28,286.48 227.62,286.31 227.96,286.23 228.30,286.37 228.64,286.22 228.98,286.20 229.31,286.09 229.65,286.05 229.99,286.04 230.33,285.96 230.67,285.96 231.00,285.86 231.34,285.86 231.68,285.74 232.02,285.82 232.36,285.82 232.70,285.86 233.04,285.79 233.37,285.62 233.71,285.67 234.05,285.73 234.39,285.70 234.73,285.53 235.06,285.50 235.40,285.59 235.74,285.56 236.08,285.47 236.42,285.48 236.76,285.48 237.10,285.56 237.43,285.43 237.77,285.53 238.11,285.52 238.45,285.37 238.79,285.49 239.12,285.30 239.46,285.35 239.80,285.27 240.14,285.31 240.48,285.28 240.82,285.37 241.16,285.37 241.49,285.24 241.83,285.23 242.17,285.35 242.51,285.15 242.85,285.20 243.19,285.21 243.52,285.21 243.86,285.07 244.20,285.09 244.54,285.03 244.88,285.15 245.22,285.13 245.55,285.13 245.89,285.02 246.23,284.92 246.57,285.10 246.91,284.90 247.25,284.91 247.58,284.86 247.92,284.92 248.26,284.98 248.60,285.02 248.94,284.93 249.27,284.81 249.61,284.99 249.95,284.80 250.29,284.82 250.63,284.82 250.97,284.97 251.31,284.87 251.64,284.97 251.98,284.91 252.32,284.90 252.66,284.98 253.00,284.86 253.34,284.88 253.67,285.04 254.01,284.99 254.35,284.96 254.69,285.03 255.03,285.08 255.37,285.10 255.70,285.07 256.04,285.13 256.38,285.07 256.72,285.16 257.06,285.28 257.39,285.32 257.73,285.15 258.07,285.24 258.41,285.28 258.75,285.33 259.09,285.37 259.43,285.41 259.76,285.50 260.10,285.49 260.44,285.65 260.78,285.54 261.12,285.80 261.46,285.67 261.79,285.88 262.13,285.89 262.47,285.99 262.81,285.94 263.15,285.98 263.49,286.10 263.82,286.07 264.16,286.18 264.50,286.27" class="c"/>
<path d="M162.50 260.50H265.00 M162.50 315.30H265.00" class="h"/>
<path d="M163.00 260.50V315.30 M264.50 260.50V315.30" class="v"/>
<path d="M196.83 260.50v1.2M196.83 315.30v-1.2M230.67 260.50v1.2M230.67 315.30v-1.2M163.00 287.90h1.2M264.50 287.90h-1.2" class="t"/>
<text x="162.10" y="318.00" class="yl">-4</text>
<text x="162.10" y="290.60" class="yl">-2</text>
<text x="162.10" y="263.20" class="yl">0</text>
<text x="164.60" y="324.30" class="xl">0</text>
<text x="198.43" y="324.30" class="xl">10</text>
<text x="232.27" y="324.30" class="xl">20</text>
<text x="266.10" y="324.30" class="xl">30</text>
<text x="216.15" y="333.30" class="xl">time(s)</text>
<text id="labA8" transform="translate(147.65 284.90) rotate(-90)" class="lab" style="font-size:7.32px" text-anchor="middle"><tspan font-style="italic">T&#x302;</tspan><tspan font-size="62%" dy="-2.6">-</tspan><tspan font-size="58%" dx="-2.5" dy="4.0">cL</tspan><tspan dy="-1.4"> (Nm)</tspan></text>
<polyline points="306.50,47.81 306.84,50.44 307.17,52.19 307.51,53.56 307.85,54.52 308.18,55.16 308.52,55.24 308.86,55.36 308.99,55.35 309.19,55.24 309.53,53.21 309.87,50.50 310.20,47.38 310.54,45.28 310.88,44.09 311.21,45.21 311.55,47.24 311.89,50.05 312.22,51.85 312.46,52.41 312.56,52.34 312.90,51.12 313.23,49.05 313.57,46.10 313.91,43.23 314.24,40.13 314.58,37.55 314.92,35.91 315.19,35.45 315.25,35.41 315.59,36.44 315.93,38.47 316.26,40.77 316.60,43.10 316.94,44.55 317.17,44.93 317.27,44.67 317.61,43.91 317.95,42.13 318.28,39.97 318.62,37.72 318.96,35.74 319.29,34.21 319.63,33.63 319.63,33.62 319.97,34.22 320.30,35.08 320.64,36.56 320.98,37.92 321.31,38.83 321.65,39.35 321.99,38.84 322.32,37.57 322.66,36.09 323.00,34.73 323.33,34.20 323.67,34.62 324.01,35.86 324.34,37.64 324.68,39.55 325.02,41.58 325.35,43.13 325.69,44.42 326.03,44.79 326.03,44.75 326.36,44.14 326.70,42.04 327.04,39.57 327.37,36.96 327.71,35.12 328.05,34.20 328.38,34.73 328.72,36.22 329.06,37.77 329.39,39.15 329.73,39.53 330.07,39.43 330.40,38.44 330.74,37.71 331.08,36.70 331.41,35.88 331.75,35.42 332.09,36.27 332.42,36.72 332.76,37.10 333.10,37.59 333.43,37.88 333.77,38.28 334.11,38.66 334.11,38.61 334.44,38.74 334.78,38.89 335.12,39.21 335.45,39.65 335.79,39.69 336.13,39.95 336.46,39.64 336.80,39.56 337.14,39.33 337.31,39.20 337.47,39.11 337.81,38.96 338.15,39.02 338.48,39.01 338.82,39.39 339.16,39.86 339.49,40.34 339.83,40.87 340.17,41.05 340.50,41.19 340.84,41.16 341.18,41.01 341.51,40.75 341.85,40.54 342.19,40.31 342.52,40.18 342.86,40.20 343.20,40.20 343.53,40.21 343.87,40.20 344.21,40.13 344.54,40.04 344.88,39.90 345.22,39.75 345.55,39.60 345.89,39.55 346.23,39.46 346.56,39.51 346.90,39.67 347.24,39.95 347.57,40.21 347.91,40.55 348.25,40.80 348.58,41.05 348.92,41.17 349.26,41.24 349.59,41.09 349.93,40.78 350.27,40.49 350.60,40.09 350.94,39.79 351.28,39.56 351.61,39.50 351.95,39.56 352.29,39.71 352.62,39.96 352.96,40.15 353.30,40.39 353.63,40.49 353.97,40.54 354.31,40.49 354.64,40.40 354.98,40.34 355.32,40.31 355.65,40.40 355.99,40.66 356.33,40.97 356.66,41.35 357.00,41.77 357.34,42.19 357.67,42.51 358.01,42.71 358.35,42.72 358.68,42.67 359.02,42.52 359.36,42.30 359.69,42.11 360.03,41.99 360.37,42.26 360.70,42.30 361.04,42.51 361.38,42.69 361.71,42.85 362.05,42.99 362.39,43.02 362.72,42.99 363.06,42.91 363.40,42.77 363.73,42.62 364.07,42.48 364.41,42.44 364.74,42.39 365.08,42.53 365.42,42.66 365.75,42.81 366.09,43.03 366.43,43.13 366.76,43.15 367.10,43.17 367.44,43.02 367.77,42.89 368.11,42.73 368.45,42.59 368.78,42.50 369.12,42.51 369.46,42.58 369.79,42.68 370.13,42.87 370.47,43.01 370.80,43.08 371.14,43.12 371.48,43.09 371.81,42.92 372.15,42.72 372.49,42.52 372.82,42.34 373.16,42.23 373.50,42.19 373.83,42.17 374.17,42.26 374.51,42.39 374.84,42.54 375.18,42.61 375.52,42.57 375.85,42.52 376.19,42.34 376.53,42.16 376.86,41.91 377.20,41.75 377.54,41.60 377.87,41.55 378.21,41.63 378.55,41.70 378.88,41.87 379.22,41.99 379.56,42.07 379.89,42.12 380.23,42.10 380.57,41.94 380.90,41.77 381.24,41.67 381.58,41.48 381.91,41.42 382.25,41.46 382.59,41.59 382.92,41.77 383.26,41.91 383.60,42.12 383.93,42.33 384.27,42.38 384.61,42.41 384.94,42.31 385.28,42.19 385.62,42.11 385.95,41.97 386.29,41.94 386.63,41.99 386.96,42.12 387.30,42.29 387.64,42.52 387.97,42.72 388.31,42.91 388.65,43.01 388.98,43.00 389.32,42.89 389.66,42.81 389.99,42.68 390.33,42.52 390.67,42.49 391.00,42.54 391.34,42.63 391.68,42.77 392.01,42.95 392.35,43.13 392.69,43.26 393.02,43.34 393.36,43.34 393.70,43.25 394.03,43.09 394.37,42.96 394.71,42.84 395.04,42.81 395.38,42.83 395.72,42.93 396.05,43.06 396.39,43.28 396.73,43.44 397.06,43.54 397.40,43.60 397.74,43.62 398.07,43.54 398.41,43.39 398.75,43.23 399.08,43.11 399.42,43.05 399.76,43.07 400.09,43.12 400.43,43.30 400.77,43.47 401.10,43.66 401.44,43.79 401.78,43.82 402.11,43.85 402.45,43.74 402.79,43.62 403.12,43.39 403.46,43.27 403.80,43.20 404.13,43.26 404.47,43.32 404.81,43.49 405.14,43.62 405.48,43.84 405.82,43.91 406.15,44.02 406.49,43.96 406.83,43.89 407.16,43.71 407.50,43.54" class="c"/>
<path d="M306.00 11.50H408.00 M306.00 66.00H408.00" class="h"/>
<path d="M306.50 11.50V66.00 M407.50 11.50V66.00" class="v"/>
<path d="M340.17 11.50v1.2M340.17 66.00v-1.2M373.83 11.50v1.2M373.83 66.00v-1.2M306.50 47.83h1.2M407.50 47.83h-1.2M306.50 29.67h1.2M407.50 29.67h-1.2" class="t"/>
<text x="305.60" y="68.70" class="yl">0</text>
<text x="305.60" y="50.53" class="yl">2</text>
<text x="305.60" y="32.37" class="yl">4</text>
<text x="305.60" y="14.20" class="yl">6</text>
<text x="308.10" y="75.00" class="xl">0</text>
<text x="341.77" y="75.00" class="xl">10</text>
<text x="375.43" y="75.00" class="xl">20</text>
<text x="409.10" y="75.00" class="xl">30</text>
<text x="359.40" y="84.00" class="xl">time(s)</text>
<text x="307.10" y="10.00" class="ml" style="font-size:5.9px">&#215;<tspan dx="0.9"> 10</tspan><tspan font-size="4.0px" dy="-2.3">-3</tspan></text>
<text id="labB1" transform="translate(293.45 37.10) rotate(-90)" class="lab" style="font-size:7.22px" text-anchor="middle"><tspan font-style="italic">B&#x302;</tspan><tspan font-size="70%" dy="1.3" font-style="italic">m</tspan><tspan dy="-1.3">(Nm&#183;rad</tspan><tspan font-size="70%" dy="-2.5">-1</tspan><tspan dy="2.5">&#183;s)</tspan></text>
<polyline points="439.60,51.55 439.94,53.54 440.27,54.90 440.61,55.75 440.95,56.31 441.28,56.64 441.62,56.69 441.96,56.69 441.96,56.65 442.29,55.79 442.63,53.69 442.97,50.70 443.30,47.29 443.64,43.88 443.98,41.34 444.31,40.02 444.45,39.86 444.65,40.26 444.99,41.84 445.32,44.14 445.66,46.50 446.00,48.47 446.33,49.30 446.67,47.47 447.01,43.39 447.34,37.75 447.68,32.05 448.02,27.03 448.35,23.50 448.56,22.92 448.69,23.09 449.03,24.72 449.36,27.14 449.70,30.10 450.04,33.04 450.37,35.18 450.71,36.04 450.71,36.14 451.05,35.31 451.38,32.93 451.72,29.84 452.06,26.03 452.39,22.66 452.73,19.21 453.07,17.10 453.40,16.37 453.40,16.17 453.74,16.78 454.08,18.49 454.41,20.53 454.75,22.71 455.09,24.76 455.42,26.08 455.63,26.27 455.76,26.00 456.10,24.81 456.43,22.71 456.77,20.11 457.11,18.33 457.44,17.49 457.44,17.54 457.78,18.37 458.12,20.92 458.45,24.38 458.79,28.20 459.13,31.36 459.46,33.61 459.73,34.37 459.80,34.12 460.14,32.06 460.47,28.08 460.81,23.42 461.15,19.72 461.48,18.16 461.82,18.50 462.16,19.73 462.49,21.61 462.83,23.34 463.17,24.94 463.50,26.15 463.84,26.74 464.18,26.09 464.51,24.05 464.85,22.08 465.19,20.01 465.52,19.12 465.86,19.22 466.20,19.84 466.53,20.86 466.87,22.26 467.21,23.76 467.54,25.13 467.88,25.82 468.05,25.99 468.22,26.07 468.55,26.23 468.89,25.80 469.23,25.41 469.56,25.17 469.90,24.50 470.24,24.36 470.57,24.12 470.57,24.22 470.91,24.20 471.25,24.88 471.58,25.34 471.92,26.22 472.26,26.51 472.26,26.55 472.59,26.79 472.93,26.69 473.27,26.42 473.60,26.06 473.94,25.71 474.28,25.36 474.61,25.24 474.95,25.47 475.29,25.99 475.62,26.59 475.96,27.33 476.30,27.99 476.63,28.39 476.97,28.44 477.31,28.18 477.64,27.66 477.98,27.00 478.32,26.25 478.65,25.50 478.99,25.00 479.33,24.73 479.66,25.01 480.00,25.84 480.34,26.85 480.67,27.86 481.01,28.37 481.35,28.48 481.68,28.50 482.02,28.20 482.36,27.80 482.69,27.20 483.03,26.62 483.37,26.11 483.70,25.71 484.04,25.39 484.38,25.32 484.71,25.39 485.05,25.50 485.39,25.61 485.72,25.67 486.06,25.55 486.40,25.35 486.73,25.02 487.07,24.64 487.41,24.22 487.74,23.92 488.08,23.72 488.42,23.71 488.75,23.94 489.09,24.32 489.43,24.76 489.76,25.32 490.10,25.79 490.44,26.18 490.77,26.41 491.11,26.53 491.45,26.54 491.78,26.53 492.12,26.45 492.12,26.51 492.46,26.50 492.79,26.70 493.13,26.99 493.47,27.46 493.80,27.82 494.14,28.09 494.48,28.29 494.81,28.34 495.15,28.35 495.49,28.24 495.82,28.02 496.16,27.87 496.50,27.71 496.83,27.60 497.17,27.52 497.51,27.51 497.84,27.61 498.18,27.76 498.52,27.80 498.85,27.88 499.19,27.84 499.53,27.71 499.86,27.53 500.20,27.24 500.54,27.02 500.87,26.78 501.21,26.66 501.55,26.54 501.88,26.53 502.22,26.61 502.56,26.72 502.89,26.77 503.23,26.85 503.57,26.78 503.90,26.61 504.24,26.41 504.58,26.17 504.91,25.85 505.25,25.58 505.59,25.41 505.92,25.30 506.26,25.26 506.60,25.26 506.93,25.31 507.27,25.40 507.61,25.42 507.94,25.41 508.28,25.23 508.62,25.11 508.95,24.84 509.29,24.65 509.63,24.49 509.96,24.44 509.96,24.44 510.30,24.38 510.64,24.47 510.97,24.63 511.31,24.79 511.65,25.00 511.98,25.09 512.32,25.11 512.66,25.09 512.99,24.98 513.33,24.83 513.67,24.66 514.00,24.48 514.34,24.43 514.68,24.45 515.01,24.50 515.35,24.66 515.69,24.81 516.02,24.96 516.36,25.06 516.70,25.09 517.03,25.07 517.37,24.95 517.71,24.81 518.04,24.65 518.38,24.53 518.72,24.47 519.05,24.48 519.39,24.58 519.73,24.76 520.06,24.97 520.40,25.17 520.74,25.27 521.07,25.39 521.41,25.33 521.75,25.23 522.08,25.16 522.42,24.98 522.76,24.92 523.09,24.83 523.43,24.86 523.77,25.01 524.10,25.16 524.44,25.30 524.78,25.54 525.11,25.60 525.45,25.68 525.79,25.65 526.12,25.51 526.46,25.28 526.80,25.10 527.13,24.89 527.47,24.72 527.81,24.71 528.14,24.69 528.48,24.74 528.82,24.84 529.15,24.91 529.49,24.97 529.83,24.94 530.16,24.79 530.50,24.63 530.84,24.39 531.17,24.22 531.51,23.98 531.85,23.90 532.18,23.89 532.52,23.96 532.86,24.09 533.19,24.25 533.53,24.41 533.87,24.55 534.20,24.65 534.54,24.59 534.88,24.52 535.21,24.38 535.55,24.22 535.89,24.15 536.22,24.16 536.56,24.17 536.90,24.30 537.23,24.52 537.57,24.74 537.91,24.96 538.24,25.16 538.58,25.31 538.92,25.29 539.25,25.26 539.59,25.24 539.93,25.12 540.26,25.08 540.60,25.12" class="c"/>
<path d="M439.10 11.50H541.10 M439.10 66.00H541.10" class="h"/>
<path d="M439.60 11.50V66.00 M540.60 11.50V66.00" class="v"/>
<path d="M473.27 11.50v1.2M473.27 66.00v-1.2M506.93 11.50v1.2M506.93 66.00v-1.2M439.60 47.83h1.2M540.60 47.83h-1.2M439.60 29.67h1.2M540.60 29.67h-1.2" class="t"/>
<text x="438.70" y="50.53" class="yl">0.2</text>
<text x="438.70" y="32.37" class="yl">0.4</text>
<text x="438.70" y="14.20" class="yl">0.6</text>
<text x="441.20" y="75.00" class="xl">0</text>
<text x="474.87" y="75.00" class="xl">10</text>
<text x="508.53" y="75.00" class="xl">20</text>
<text x="542.20" y="75.00" class="xl">30</text>
<text x="492.50" y="84.00" class="xl">time(s)</text>
<text id="labB2" transform="translate(424.55 34.95) rotate(-90)" class="lab" style="font-size:7.22px" text-anchor="middle"><tspan font-style="italic">J&#x302;</tspan><tspan font-size="70%" dy="1.3" font-style="italic">L</tspan><tspan dy="-1.3"> (kg&#183;m2)</tspan></text>
<polyline points="306.50,130.61 306.84,133.69 307.17,136.14 307.51,137.85 307.85,139.43 308.18,140.13 308.52,140.83 308.86,141.10 308.99,141.09 309.19,140.90 309.53,138.97 309.87,135.96 310.20,132.68 310.54,129.51 310.88,126.95 311.21,126.09 311.21,126.09 311.55,127.61 311.89,130.67 312.22,133.94 312.56,136.53 312.73,136.62 312.90,136.42 313.23,134.39 313.57,131.09 313.91,127.04 314.24,122.68 314.58,118.59 314.92,115.89 315.25,114.98 315.59,115.63 315.93,117.82 316.26,120.47 316.60,123.34 316.94,125.78 317.27,127.22 317.44,127.32 317.61,127.35 317.95,126.11 318.28,124.17 318.62,121.45 318.96,118.81 319.29,116.38 319.63,114.39 319.97,113.00 320.17,112.89 320.30,112.74 320.64,113.48 320.98,114.94 321.31,116.53 321.65,117.77 321.99,118.87 322.32,119.29 322.66,118.90 323.00,117.67 323.33,116.13 323.67,114.72 324.01,113.32 324.34,113.11 324.34,113.07 324.68,114.25 325.02,117.00 325.35,120.61 325.69,124.08 326.03,127.02 326.36,128.08 326.70,126.93 327.04,124.40 327.37,120.84 327.71,117.51 328.05,114.77 328.38,113.74 328.72,114.21 329.06,115.28 329.39,116.88 329.73,118.29 330.07,119.43 330.40,120.04 330.40,119.95 330.74,119.62 331.08,118.90 331.41,117.75 331.75,116.51 332.09,115.44 332.42,114.98 332.76,115.22 333.10,115.94 333.43,116.80 333.77,117.94 334.11,118.88 334.44,119.71 334.78,119.92 335.12,119.92 335.45,119.91 335.79,119.82 336.13,119.60 336.46,119.38 336.80,119.26 337.14,119.33 337.47,119.55 337.81,120.09 338.15,120.61 338.48,121.23 338.82,121.49 339.16,121.71 339.49,121.71 339.83,121.42 340.17,121.28 340.50,121.02 340.84,120.80 341.18,120.69 341.51,120.67 341.85,120.83 342.19,121.08 342.19,121.08 342.52,121.45 342.86,122.11 343.20,122.72 343.53,123.20 343.87,123.42 344.21,123.41 344.21,123.39 344.54,123.00 344.88,122.54 345.22,121.99 345.55,121.53 345.89,121.26 346.23,121.12 346.56,121.14 346.90,121.32 347.24,121.61 347.57,121.80 347.91,121.91 348.25,121.87 348.58,121.76 348.92,121.54 349.26,121.27 349.59,121.06 349.93,120.88 350.27,120.89 350.60,120.93 350.94,121.03 351.28,121.23 351.61,121.36 351.95,121.46 352.29,121.40 352.62,121.18 352.96,120.96 353.30,120.62 353.63,120.43 353.97,120.37 354.31,120.43 354.64,120.76 354.98,121.20 355.32,121.75 355.65,122.43 355.99,122.98 356.33,123.39 356.66,123.64 357.00,123.73 357.34,123.72 357.67,123.62 358.01,123.47 358.35,123.34 358.68,123.35 359.02,123.49 359.36,123.76 359.69,124.01 360.03,124.34 360.37,124.42 360.70,124.55 361.04,124.61 361.38,124.56 361.71,124.39 362.05,124.23 362.39,124.06 362.72,123.92 363.06,123.85 363.40,123.89 363.73,123.92 364.07,124.07 364.41,124.25 364.74,124.42 365.08,124.52 365.42,124.50 365.75,124.48 366.09,124.36 366.43,124.17 366.76,124.02 367.10,123.82 367.44,123.77 367.77,123.78 368.11,123.88 368.45,123.94 368.78,124.15 369.12,124.27 369.46,124.40 369.79,124.41 370.13,124.36 370.47,124.17 370.80,124.04 371.14,123.81 371.48,123.67 371.81,123.53 372.15,123.49 372.49,123.56 372.82,123.69 373.16,123.84 373.50,123.92 373.83,123.98 374.17,124.01 374.51,123.91 374.84,123.72 375.18,123.53 375.52,123.29 375.85,123.13 376.19,123.01 376.53,122.97 376.86,123.00 377.20,123.12 377.54,123.31 377.87,123.43 378.21,123.48 378.55,123.53 378.88,123.40 379.22,123.30 379.56,123.13 379.89,122.89 380.23,122.81 380.57,122.73 380.90,122.72 381.24,122.82 381.58,123.00 381.91,123.19 382.25,123.36 382.59,123.54 382.92,123.66 383.26,123.64 383.60,123.56 383.93,123.51 384.27,123.38 384.61,123.29 384.94,123.32 385.28,123.37 385.62,123.56 385.95,123.79 386.29,123.99 386.63,124.23 386.96,124.42 387.30,124.49 387.64,124.54 387.97,124.47 388.31,124.31 388.65,124.21 388.98,124.10 389.32,124.04 389.66,124.08 389.99,124.16 390.33,124.30 390.67,124.46 391.00,124.63 391.34,124.68 391.68,124.74 392.01,124.64 392.35,124.50 392.69,124.36 393.02,124.12 393.36,123.99 393.70,123.87 394.03,123.91 394.37,123.97 394.71,124.04 395.04,124.23 395.38,124.37 395.72,124.41 396.05,124.44 396.39,124.36 396.73,124.24 397.06,124.09 397.40,123.91 397.74,123.78 398.07,123.69 398.41,123.74 398.75,123.87 399.08,123.99 399.42,124.21 399.76,124.37 400.09,124.55 400.43,124.61 400.77,124.62 401.10,124.49 401.44,124.41 401.78,124.28 402.11,124.19 402.45,124.18 402.79,124.29 403.12,124.40 403.46,124.64 403.80,124.84 404.13,125.14 404.47,125.32 404.81,125.42 405.14,125.44 405.48,125.40 405.82,125.33 406.15,125.26 406.49,125.21 406.83,125.26 407.16,125.32 407.50,125.55" class="c"/>
<path d="M306.00 94.50H408.00 M306.00 148.90H408.00" class="h"/>
<path d="M306.50 94.50V148.90 M407.50 94.50V148.90" class="v"/>
<path d="M340.17 94.50v1.2M340.17 148.90v-1.2M373.83 94.50v1.2M373.83 148.90v-1.2M306.50 130.77h1.2M407.50 130.77h-1.2M306.50 112.63h1.2M407.50 112.63h-1.2" class="t"/>
<text x="305.60" y="151.60" class="yl">0</text>
<text x="305.60" y="133.47" class="yl">20</text>
<text x="305.60" y="115.33" class="yl">40</text>
<text x="305.60" y="97.20" class="yl">60</text>
<text x="308.10" y="157.90" class="xl">0</text>
<text x="341.77" y="157.90" class="xl">10</text>
<text x="375.43" y="157.90" class="xl">20</text>
<text x="409.10" y="157.90" class="xl">30</text>
<text x="359.40" y="166.90" class="xl">time(s)</text>
<text id="labB3" transform="translate(293.45 119.30) rotate(-90)" class="lab" style="font-size:7.22px" text-anchor="middle"><tspan font-style="italic">B&#x302;</tspan><tspan font-size="70%" dy="1.3" font-style="italic">L</tspan><tspan dy="-1.3">(Nm&#183;rad</tspan><tspan font-size="70%" dy="-2.5">-1</tspan><tspan dy="2.5">&#183;s)</tspan></text>
<polyline points="439.60,129.80 439.94,132.64 440.27,134.97 440.61,136.86 440.95,138.46 441.28,139.43 441.62,140.07 441.96,140.30 442.29,140.38 442.63,139.61 442.97,137.56 443.30,134.43 443.64,131.20 443.98,127.94 444.31,125.44 444.65,123.86 444.82,123.50 444.99,123.89 445.32,126.33 445.66,129.87 446.00,133.39 446.33,136.11 446.57,136.57 446.67,136.45 447.01,133.70 447.34,128.35 447.68,122.42 448.02,116.93 448.35,113.07 448.56,112.31 448.69,112.66 449.03,114.27 449.36,116.94 449.70,120.28 450.04,123.48 450.37,125.80 450.71,126.94 450.71,126.78 451.05,126.24 451.38,124.32 451.72,121.50 452.06,118.65 452.39,115.42 452.73,112.92 453.07,110.86 453.40,110.30 453.40,110.26 453.74,110.72 454.08,111.91 454.41,113.40 454.75,114.78 455.09,116.20 455.42,117.33 455.63,117.33 455.76,117.38 456.10,116.63 456.43,115.54 456.77,113.95 457.11,112.75 457.44,111.83 457.78,111.34 458.12,112.65 458.45,115.72 458.79,119.61 459.13,123.23 459.46,126.19 459.73,126.89 459.80,126.71 460.14,124.90 460.47,120.92 460.81,116.61 461.15,113.08 461.48,111.64 461.82,111.93 462.16,113.14 462.49,114.52 462.83,115.87 463.17,117.45 463.50,118.18 463.84,118.59 464.18,118.19 464.51,116.62 464.85,114.92 465.19,112.88 465.52,112.53 465.86,113.12 466.20,114.64 466.53,116.08 466.87,117.76 467.21,119.00 467.54,119.23 467.88,118.85 468.22,118.24 468.55,117.84 468.89,116.93 469.23,116.59 469.56,116.30 469.90,116.47 470.24,116.77 470.57,117.43 470.91,118.07 471.25,118.58 471.58,118.92 471.92,119.12 472.26,119.13 472.26,119.08 472.59,118.81 472.93,118.58 473.27,118.22 473.60,118.14 473.94,118.16 474.28,118.28 474.61,118.56 474.95,118.80 475.29,119.31 475.62,120.15 475.96,120.93 476.30,121.40 476.63,121.45 476.97,121.02 477.31,120.45 477.64,119.70 477.98,119.09 478.32,118.65 478.65,118.42 478.99,118.57 478.99,118.53 479.33,119.00 479.66,119.60 480.00,120.33 480.34,120.97 480.67,121.38 481.01,121.60 481.35,121.49 481.68,121.10 482.02,120.74 482.36,120.36 482.69,120.13 483.03,119.99 483.37,119.89 483.70,119.95 484.04,119.89 484.38,119.90 484.71,119.81 485.05,119.70 485.39,119.49 485.72,119.14 486.06,118.86 486.40,118.60 486.73,118.43 487.07,118.41 487.41,118.60 487.74,118.85 488.08,119.08 488.42,119.39 488.75,119.80 489.09,120.10 489.43,120.31 489.76,120.46 490.10,120.57 490.44,120.67 490.77,120.69 491.11,120.85 491.45,121.03 491.78,121.40 492.12,121.82 492.46,122.30 492.79,122.71 493.13,123.10 493.47,123.07 493.80,123.10 494.14,123.08 494.48,123.03 494.81,122.86 495.15,122.74 495.49,122.72 495.82,122.72 496.16,122.82 496.50,122.92 496.83,123.16 497.17,123.30 497.51,123.36 497.84,123.43 498.18,123.40 498.52,123.22 498.85,123.11 499.19,122.94 499.53,122.80 499.86,122.70 500.20,122.71 500.54,122.80 500.87,122.98 501.21,123.11 501.55,123.29 501.88,123.39 502.22,123.45 502.56,123.40 502.89,123.23 503.23,123.05 503.57,122.85 503.90,122.66 504.24,122.51 504.58,122.44 504.91,122.49 505.25,122.55 505.59,122.62 505.92,122.69 506.26,122.68 506.60,122.65 506.93,122.47 507.27,122.26 507.61,122.06 507.94,121.77 508.28,121.61 508.62,121.46 508.95,121.41 509.29,121.49 509.63,121.61 509.96,121.80 509.96,121.81 510.30,121.93 510.64,122.04 510.97,122.10 511.31,122.04 511.65,121.97 511.98,121.81 512.32,121.70 512.66,121.64 512.99,121.62 513.33,121.67 513.67,121.85 514.00,121.99 514.34,122.22 514.68,122.45 515.01,122.60 515.35,122.69 515.69,122.64 516.02,122.61 516.36,122.44 516.70,122.31 517.03,122.20 517.37,122.21 517.71,122.20 518.04,122.39 518.38,122.52 518.72,122.71 519.05,122.91 519.39,123.05 519.73,123.09 520.06,123.10 520.40,123.01 520.74,122.86 521.07,122.74 521.41,122.62 521.75,122.53 522.08,122.58 522.42,122.71 522.76,122.86 523.09,123.06 523.43,123.24 523.77,123.38 524.10,123.40 524.44,123.38 524.78,123.24 525.11,123.04 525.45,122.94 525.79,122.75 526.12,122.70 526.46,122.68 526.80,122.81 527.13,122.97 527.47,123.12 527.81,123.32 528.14,123.36 528.48,123.45 528.82,123.39 529.15,123.21 529.49,123.05 529.83,122.87 530.16,122.78 530.50,122.69 530.84,122.75 531.17,122.78 531.51,122.98 531.85,123.12 532.18,123.25 532.52,123.41 532.86,123.43 533.19,123.34 533.53,123.23 533.87,123.06 534.20,122.91 534.54,122.83 534.88,122.79 535.21,122.81 535.55,122.94 535.89,123.19 536.22,123.36 536.56,123.57 536.90,123.71 537.23,123.78 537.57,123.83 537.91,123.74 538.24,123.68 538.58,123.54 538.92,123.49 539.25,123.51 539.59,123.60 539.93,123.74 540.26,123.99 540.60,124.22" class="c"/>
<path d="M439.10 94.50H541.10 M439.10 148.90H541.10" class="h"/>
<path d="M439.60 94.50V148.90 M540.60 94.50V148.90" class="v"/>
<path d="M473.27 94.50v1.2M473.27 148.90v-1.2M506.93 94.50v1.2M506.93 148.90v-1.2M439.60 121.70h1.2M540.60 121.70h-1.2" class="t"/>
<text x="438.70" y="151.60" class="yl">0</text>
<text x="438.70" y="124.40" class="yl">1</text>
<text x="438.70" y="97.20" class="yl">2</text>
<text x="441.20" y="157.90" class="xl">0</text>
<text x="474.87" y="157.90" class="xl">10</text>
<text x="508.53" y="157.90" class="xl">20</text>
<text x="542.20" y="157.90" class="xl">30</text>
<text x="492.50" y="166.90" class="xl">time(s)</text>
<text x="440.20" y="93.00" class="ml" style="font-size:5.9px">&#215;<tspan dx="0.9"> 10</tspan><tspan font-size="4.0px" dy="-2.3">6</tspan></text>
<text id="labB4" transform="translate(428.55 122.05) rotate(-90)" class="lab" style="font-size:7.22px" text-anchor="middle"><tspan font-style="italic">K&#x302;</tspan><tspan font-size="70%" dy="1.3" font-style="italic">s</tspan><tspan dy="-1.3"> (Nm&#183;rad-1)</tspan></text>
<polyline points="306.50,209.85 306.84,212.87 307.17,215.44 307.51,217.29 307.85,218.71 308.18,219.59 308.52,220.00 308.52,220.02 308.86,219.31 309.19,217.49 309.53,215.02 309.87,212.02 310.20,208.91 310.54,206.39 310.88,204.17 311.21,202.91 311.35,202.84 311.55,203.88 311.89,208.21 312.22,213.48 312.56,216.00 312.90,214.99 313.23,212.94 313.57,210.11 313.91,206.84 314.24,203.81 314.58,201.53 314.92,200.96 315.25,201.44 315.59,202.63 315.93,204.31 316.26,206.65 316.60,209.16 316.94,211.51 317.27,213.89 317.61,215.62 317.95,216.69 318.28,217.24 318.62,216.50 318.96,214.02 319.29,210.54 319.63,206.46 319.97,202.74 320.30,199.81 320.64,197.85 320.81,197.86 320.98,197.98 321.31,199.66 321.65,202.14 321.99,204.76 322.32,207.07 322.66,207.76 322.66,207.84 323.00,206.96 323.33,204.88 323.67,201.90 324.01,198.58 324.34,195.57 324.68,193.35 325.02,192.46 325.35,194.56 325.69,198.80 326.03,203.27 326.36,205.43 326.70,204.26 327.04,201.50 327.37,198.15 327.71,194.67 328.05,191.91 328.38,190.69 328.72,191.61 329.06,193.41 329.39,195.69 329.73,197.83 330.07,199.24 330.27,199.54 330.40,199.56 330.74,199.16 331.08,198.45 331.41,197.73 331.75,196.78 332.09,195.66 332.42,195.65 332.76,196.24 333.10,196.83 333.43,197.81 333.77,198.68 334.11,199.43 334.44,200.31 334.78,200.50 335.12,200.74 335.32,200.52 335.45,200.57 335.79,200.05 336.13,199.89 336.46,199.72 336.80,199.84 337.14,199.74 337.47,199.96 337.81,200.00 338.15,200.08 338.48,200.33 338.82,200.19 339.16,200.02 339.49,199.88 339.83,199.68 340.17,199.47 340.50,199.53 340.50,199.54 340.84,199.78 341.18,200.05 341.51,200.51 341.85,200.87 342.19,201.20 342.52,201.38 342.86,201.39 343.20,201.17 343.53,200.66 343.87,200.00 344.21,199.43 344.54,198.86 344.88,198.58 345.22,198.62 345.55,198.98 345.89,199.68 346.23,200.39 346.56,201.16 346.90,201.60 347.24,201.76 347.24,201.70 347.57,201.55 347.91,201.15 348.25,200.62 348.58,200.12 348.92,199.66 349.26,199.32 349.59,199.11 349.93,199.08 350.27,199.12 350.60,199.23 350.94,199.23 351.28,199.18 351.61,198.88 351.95,198.58 352.29,198.12 352.62,197.70 352.96,197.27 353.30,197.00 353.63,196.90 353.97,196.92 354.31,197.13 354.31,197.13 354.64,197.43 354.98,197.91 355.32,198.32 355.65,198.71 355.99,198.96 356.33,199.06 356.66,199.03 357.00,198.89 357.34,198.73 357.34,198.74 357.67,198.52 358.01,198.48 358.35,198.49 358.68,198.68 359.02,198.87 359.36,199.10 359.69,199.30 360.03,199.37 360.37,199.11 360.70,199.01 361.04,198.92 361.38,198.73 361.71,198.64 362.05,198.53 362.39,198.62 362.72,198.73 363.06,198.85 363.40,199.09 363.73,199.29 364.07,199.50 364.41,199.65 364.74,199.67 365.08,199.59 365.42,199.56 365.75,199.41 366.09,199.28 366.43,199.26 366.76,199.27 367.10,199.43 367.44,199.57 367.77,199.78 368.11,200.00 368.45,200.14 368.78,200.18 369.12,200.17 369.46,200.09 369.79,199.97 370.13,199.78 370.47,199.60 370.80,199.48 371.14,199.41 371.48,199.45 371.81,199.59 372.15,199.73 372.49,199.84 372.82,199.94 373.16,199.94 373.50,199.84 373.83,199.70 374.17,199.56 374.51,199.34 374.84,199.15 375.18,198.95 375.52,198.91 375.85,198.92 376.19,199.00 376.53,199.13 376.86,199.26 377.20,199.29 377.54,199.35 377.87,199.27 378.21,199.16 378.55,198.99 378.88,198.79 379.22,198.60 379.56,198.49 379.89,198.40 380.23,198.45 380.57,198.60 380.90,198.79 381.24,198.97 381.58,199.11 381.91,199.13 382.25,199.17 382.59,199.08 382.92,198.92 383.26,198.79 383.60,198.69 383.93,198.57 384.27,198.63 384.61,198.67 384.94,198.82 385.28,199.04 385.62,199.27 385.95,199.43 386.29,199.53 386.63,199.49 386.96,199.43 387.30,199.31 387.64,199.17 387.97,199.06 388.31,199.04 388.65,199.02 388.98,199.08 389.32,199.28 389.66,199.44 389.99,199.59 390.33,199.74 390.67,199.86 391.00,199.83 391.34,199.76 391.68,199.64 392.01,199.50 392.35,199.39 392.69,199.25 393.02,199.32 393.36,199.36 393.70,199.50 394.03,199.69 394.37,199.88 394.71,200.03 395.04,200.11 395.38,200.13 395.72,200.01 396.05,199.87 396.39,199.76 396.73,199.61 397.06,199.47 397.40,199.50 397.74,199.57 398.07,199.67 398.41,199.86 398.75,200.01 399.08,200.14 399.42,200.23 399.76,200.18 400.09,200.11 400.43,199.96 400.77,199.79 401.10,199.66 401.44,199.50 401.78,199.49 402.11,199.59 402.45,199.70 402.79,199.85 403.12,200.02 403.46,200.14 403.80,200.26 404.13,200.20 404.47,200.12 404.81,199.96 405.14,199.80 405.48,199.63 405.82,199.53 406.15,199.53 406.49,199.56 406.83,199.67 407.16,199.91 407.50,200.07" class="c"/>
<path d="M306.00 177.50H408.00 M306.00 232.40H408.00" class="h"/>
<path d="M306.50 177.50V232.40 M407.50 177.50V232.40" class="v"/>
<path d="M340.17 177.50v1.2M340.17 232.40v-1.2M373.83 177.50v1.2M373.83 232.40v-1.2M306.50 218.68h1.2M407.50 218.68h-1.2M306.50 204.95h1.2M407.50 204.95h-1.2M306.50 191.23h1.2M407.50 191.23h-1.2" class="t"/>
<text x="305.60" y="235.10" class="yl">0.06</text>
<text x="305.60" y="221.38" class="yl">0.08</text>
<text x="305.60" y="207.65" class="yl">0.1</text>
<text x="305.60" y="193.93" class="yl">0.12</text>
<text x="305.60" y="180.20" class="yl">0.14</text>
<text x="308.10" y="241.40" class="xl">0</text>
<text x="341.77" y="241.40" class="xl">10</text>
<text x="375.43" y="241.40" class="xl">20</text>
<text x="409.10" y="241.40" class="xl">30</text>
<text x="359.40" y="250.40" class="xl">time(s)</text>
<text id="labB5" transform="translate(287.95 205.00) rotate(-90)" class="lab" style="font-size:7.22px" text-anchor="middle"><tspan font-style="italic">T&#x302;</tspan><tspan font-size="62%" dy="-2.6">+</tspan><tspan font-size="58%" dx="-2.5" dy="4.0">cm</tspan><tspan dy="-1.4"> (Nm)</tspan></text>
<polyline points="439.60,217.98 439.94,217.33 440.27,216.95 440.61,216.63 440.95,216.52 441.12,216.51 441.28,216.91 441.62,218.05 441.96,219.36 442.29,220.56 442.43,220.52 442.63,220.30 442.97,219.13 443.30,217.50 443.64,215.50 443.98,213.88 444.31,212.71 444.55,212.36 444.65,212.33 444.99,213.12 445.32,214.71 445.66,216.10 446.00,217.13 446.20,217.15 446.33,217.34 446.67,216.03 447.01,214.08 447.34,211.47 447.68,209.09 448.02,206.72 448.35,204.88 448.69,204.35 449.03,205.33 449.36,207.63 449.70,210.52 450.04,213.79 450.37,216.68 450.71,218.43 450.88,218.59 451.05,218.47 451.38,217.74 451.72,216.64 452.06,214.87 452.39,212.72 452.73,210.82 453.07,209.08 453.40,207.36 453.74,206.38 454.08,205.92 454.41,206.69 454.75,207.78 455.09,208.78 455.29,209.14 455.42,208.94 455.76,208.47 456.10,207.80 456.43,206.71 456.77,205.37 457.11,204.33 457.44,203.83 457.78,203.42 458.12,204.51 458.45,206.73 458.79,209.45 459.13,211.81 459.46,212.90 459.80,212.00 460.14,209.58 460.47,206.20 460.81,203.03 461.15,200.65 461.48,199.65 461.82,199.97 462.16,200.67 462.49,201.53 462.83,202.52 463.17,203.14 463.50,203.52 463.50,203.43 463.84,203.22 464.18,203.16 464.51,202.64 464.85,202.44 465.19,202.32 465.36,202.41 465.52,202.56 465.86,203.18 466.20,203.55 466.53,204.18 466.87,204.71 467.21,205.08 467.54,204.97 467.88,204.81 468.22,204.79 468.55,204.46 468.89,204.16 469.23,204.14 469.56,204.09 469.90,203.93 470.24,204.06 470.57,204.23 470.91,204.22 471.25,204.20 471.58,204.04 471.92,204.11 472.26,203.91 472.59,204.04 472.93,204.11 473.27,204.22 473.60,204.52 473.94,204.89 474.28,205.29 474.61,205.63 474.95,205.79 475.29,205.83 475.62,205.67 475.96,205.49 476.30,205.24 476.63,204.81 476.97,204.37 477.31,203.98 477.64,203.55 477.98,203.25 478.32,203.07 478.65,202.93 478.99,202.86 479.33,202.78 479.66,202.80 480.00,202.68 480.34,202.58 480.67,202.48 481.01,202.37 481.35,202.42 481.68,202.58 482.02,202.81 482.36,203.18 482.69,203.56 483.03,203.91 483.37,204.06 483.70,204.03 484.04,203.79 484.38,203.45 484.71,202.91 485.05,202.42 485.39,201.90 485.72,201.58 486.06,201.32 486.40,201.32 486.73,201.56 487.07,201.83 487.41,202.25 487.74,202.61 488.08,202.93 488.42,203.13 488.75,203.19 489.09,203.17 489.43,203.11 489.76,202.99 490.10,202.98 490.44,202.95 490.44,203.01 490.77,203.08 491.11,203.29 491.45,203.49 491.78,203.77 492.12,203.91 492.46,203.93 492.79,203.81 493.13,203.56 493.47,203.13 493.80,202.92 494.14,202.70 494.48,202.55 494.81,202.55 494.81,202.57 495.15,202.62 495.49,202.69 495.82,202.82 496.16,203.00 496.50,203.07 496.83,203.17 497.17,203.13 497.51,203.00 497.84,202.85 498.18,202.61 498.52,202.50 498.85,202.36 499.19,202.35 499.53,202.44 499.86,202.53 500.20,202.71 500.54,202.83 500.87,202.93 501.21,203.04 501.55,203.01 501.88,202.89 502.22,202.70 502.56,202.50 502.89,202.33 503.23,202.29 503.57,202.26 503.90,202.27 504.24,202.42 504.58,202.57 504.91,202.72 505.25,202.83 505.59,202.87 505.92,202.80 506.26,202.69 506.60,202.51 506.93,202.33 507.27,202.16 507.61,202.08 507.94,202.04 508.28,202.05 508.62,202.13 508.95,202.28 509.29,202.40 509.63,202.48 509.96,202.54 510.30,202.47 510.64,202.32 510.97,202.10 511.31,201.89 511.65,201.69 511.98,201.59 512.32,201.53 512.66,201.56 512.99,201.64 513.33,201.75 513.67,201.91 514.00,201.99 514.34,202.03 514.68,201.92 515.01,201.77 515.35,201.63 515.69,201.37 516.02,201.20 516.36,201.12 516.70,201.08 517.03,201.09 517.37,201.19 517.71,201.38 518.04,201.54 518.38,201.67 518.72,201.65 519.05,201.61 519.39,201.52 519.73,201.35 520.06,201.12 520.40,200.94 520.74,200.84 521.07,200.81 521.41,200.88 521.75,200.97 522.08,201.11 522.42,201.33 522.76,201.41 523.09,201.41 523.43,201.42 523.77,201.26 524.10,201.11 524.44,200.93 524.78,200.78 525.11,200.69 525.45,200.61 525.79,200.65 526.12,200.78 526.46,200.95 526.80,201.09 527.13,201.22 527.47,201.27 527.81,201.27 528.14,201.16 528.48,200.96 528.82,200.77 529.15,200.65 529.49,200.54 529.83,200.53 530.16,200.56 530.50,200.65 530.84,200.84 531.17,200.99 531.51,201.15 531.85,201.20 532.18,201.14 532.52,201.08 532.86,200.92 533.19,200.73 533.53,200.59 533.87,200.51 534.20,200.52 534.54,200.59 534.88,200.77 535.21,200.93 535.55,201.10 535.89,201.28 536.22,201.34 536.56,201.31 536.90,201.27 537.23,201.16 537.57,200.98 537.91,200.87 538.24,200.77 538.58,200.79 538.92,200.90 539.25,201.12 539.59,201.26 539.93,201.48 540.26,201.66 540.60,201.77" class="c"/>
<path d="M439.10 177.50H541.10 M439.10 232.40H541.10" class="h"/>
<path d="M439.60 177.50V232.40 M540.60 177.50V232.40" class="v"/>
<path d="M473.27 177.50v1.2M473.27 232.40v-1.2M506.93 177.50v1.2M506.93 232.40v-1.2M439.60 218.68h1.2M540.60 218.68h-1.2M439.60 204.95h1.2M540.60 204.95h-1.2M439.60 191.22h1.2M540.60 191.22h-1.2" class="t"/>
<text x="438.70" y="235.10" class="yl">-0.16</text>
<text x="438.70" y="221.38" class="yl">-0.14</text>
<text x="438.70" y="207.65" class="yl">-0.12</text>
<text x="438.70" y="193.92" class="yl">-0.1</text>
<text x="438.70" y="180.20" class="yl">-0.08</text>
<text x="441.20" y="241.40" class="xl">0</text>
<text x="474.87" y="241.40" class="xl">10</text>
<text x="508.53" y="241.40" class="xl">20</text>
<text x="542.20" y="241.40" class="xl">30</text>
<text x="492.50" y="250.40" class="xl">time(s)</text>
<text id="labB6" transform="translate(420.35 205.00) rotate(-90)" class="lab" style="font-size:7.41px" text-anchor="middle"><tspan font-style="italic">T&#x302;</tspan><tspan font-size="62%" dy="-2.6">-</tspan><tspan font-size="58%" dx="-2.5" dy="4.0">cm</tspan><tspan dy="-1.4"> (Nm)</tspan></text>
<polyline points="306.50,282.56 306.84,285.25 307.17,287.81 307.51,290.62 307.51,290.76 307.85,293.65 308.18,296.98 308.52,300.34 308.86,302.41 309.09,302.86 309.19,302.57 309.53,300.91 309.87,297.30 310.20,293.07 310.54,288.70 310.88,285.20 311.21,283.38 311.35,283.13 311.55,284.03 311.89,288.59 312.22,294.76 312.56,300.27 312.90,302.71 312.90,302.89 313.23,301.24 313.57,297.21 313.91,292.22 314.24,287.21 314.58,283.24 314.92,281.66 315.25,282.54 315.59,284.68 315.93,287.34 316.26,290.67 316.60,294.04 316.94,296.83 317.27,298.86 317.61,299.66 317.61,299.68 317.95,298.66 318.28,296.82 318.62,294.08 318.96,291.51 319.29,289.48 319.63,288.72 319.63,288.93 319.97,289.42 320.30,290.96 320.64,292.69 320.81,293.46 320.98,293.89 321.31,294.93 321.65,295.99 321.99,296.81 322.32,297.71 322.66,298.12 323.00,298.25 323.33,296.99 323.67,294.21 324.01,290.59 324.34,287.53 324.68,286.26 325.02,287.54 325.35,290.36 325.69,293.94 326.03,297.10 326.36,298.36 326.70,297.10 327.04,293.68 327.37,289.39 327.71,285.00 328.05,281.62 328.38,280.31 328.72,281.17 329.06,282.93 329.39,285.14 329.73,287.15 330.07,288.46 330.27,288.69 330.40,288.84 330.74,287.61 331.08,285.97 331.41,284.06 331.75,281.92 332.09,281.14 332.42,280.47 332.76,281.18 333.10,282.43 333.43,283.89 333.77,285.36 334.11,286.29 334.31,286.48 334.44,286.53 334.78,286.32 335.12,286.26 335.45,286.31 335.79,286.37 336.13,286.67 336.46,286.77 336.80,287.04 337.14,287.03 337.47,287.22 337.81,287.07 338.15,287.08 338.48,286.97 338.82,287.17 339.16,286.99 339.16,287.03 339.49,287.15 339.83,287.43 340.17,287.48 340.50,287.57 340.84,287.68 341.18,287.65 341.51,287.50 341.85,287.52 342.19,287.75 342.52,288.07 342.86,288.40 343.20,288.72 343.53,288.84 343.87,288.25 344.21,286.97 344.54,285.68 344.88,285.30 345.22,285.57 345.55,285.74 345.89,285.88 346.23,285.88 346.56,285.81 346.90,285.69 347.24,285.62 347.57,285.53 347.57,285.49 347.91,285.41 348.25,285.46 348.58,285.47 348.92,285.59 349.26,285.65 349.59,285.65 349.93,285.62 350.27,285.51 350.60,285.32 350.94,285.06 351.28,284.80 351.61,284.57 351.95,284.37 352.29,284.37 352.62,284.47 352.96,284.77 353.30,284.99 353.63,285.28 353.97,285.46 354.31,285.58 354.31,285.59 354.64,285.68 354.98,285.92 355.32,286.19 355.65,286.58 355.99,286.93 356.33,287.22 356.66,287.49 357.00,287.70 357.34,288.10 357.67,288.48 358.01,288.81 358.35,289.07 358.68,289.25 359.02,289.22 359.36,289.07 359.69,288.89 360.03,288.62 360.37,288.63 360.70,288.54 361.04,288.53 361.38,288.68 361.71,288.86 362.05,289.00 362.39,289.21 362.72,289.37 363.06,289.46 363.40,289.46 363.73,289.37 364.07,289.25 364.41,289.09 364.74,288.91 365.08,288.92 365.42,288.92 365.75,288.99 366.09,289.16 366.43,289.34 366.76,289.46 367.10,289.64 367.44,289.66 367.77,289.65 368.11,289.59 368.45,289.42 368.78,289.23 369.12,289.08 369.46,289.02 369.79,288.96 370.13,288.98 370.47,289.05 370.80,289.04 371.14,289.05 371.48,289.00 371.81,288.79 372.15,288.52 372.49,288.17 372.82,287.76 373.16,287.37 373.50,286.89 373.83,286.56 374.17,286.35 374.51,286.12 374.84,286.08 375.18,286.07 375.52,286.01 375.85,286.02 376.19,285.96 376.53,285.88 376.86,285.75 376.86,285.77 377.20,285.56 377.54,285.42 377.87,285.33 378.21,285.28 378.55,285.26 378.88,285.36 379.22,285.55 379.56,285.82 379.89,285.99 380.23,286.17 380.57,286.28 380.90,286.33 381.24,286.30 381.58,286.17 381.91,286.09 382.25,286.04 382.59,285.98 382.92,286.03 383.26,286.17 383.60,286.34 383.93,286.55 384.27,286.79 384.61,286.90 384.94,287.00 385.28,287.06 385.62,286.95 385.95,286.82 386.29,286.69 386.63,286.65 386.96,286.54 387.30,286.60 387.64,286.73 387.97,286.85 388.31,287.08 388.65,287.32 388.98,287.44 389.32,287.54 389.66,287.55 389.99,287.50 390.33,287.34 390.67,287.19 391.00,287.06 391.34,287.03 391.68,287.07 392.01,287.19 392.01,287.16 392.35,287.30 392.69,287.52 393.02,287.67 393.36,287.81 393.70,287.88 394.03,287.92 394.37,287.81 394.71,287.62 395.04,287.53 395.38,287.36 395.72,287.27 396.05,287.31 396.39,287.39 396.73,287.55 397.06,287.72 397.40,287.89 397.74,288.02 398.07,288.14 398.41,288.12 398.75,288.04 399.08,287.93 399.42,287.79 399.76,287.74 400.09,287.76 400.43,287.93 400.77,288.14 401.10,288.52 401.44,288.93 401.78,289.30 402.11,289.59 402.45,289.84 402.79,289.94 403.12,289.90 403.46,289.81 403.80,289.58 404.13,289.41 404.47,289.29 404.81,289.23 405.14,289.28 405.48,289.28 405.82,289.39 406.15,289.35 406.49,289.32 406.83,289.22 407.16,289.01 407.50,288.68" class="c"/>
<path d="M306.00 260.50H408.00 M306.00 315.30H408.00" class="h"/>
<path d="M306.50 260.50V315.30 M407.50 260.50V315.30" class="v"/>
<path d="M340.17 260.50v1.2M340.17 315.30v-1.2M373.83 260.50v1.2M373.83 315.30v-1.2M306.50 297.03h1.2M407.50 297.03h-1.2M306.50 278.77h1.2M407.50 278.77h-1.2" class="t"/>
<text x="305.60" y="318.00" class="yl">0</text>
<text x="305.60" y="299.73" class="yl">2</text>
<text x="305.60" y="281.47" class="yl">4</text>
<text x="305.60" y="263.20" class="yl">6</text>
<text x="308.10" y="324.30" class="xl">0</text>
<text x="341.77" y="324.30" class="xl">10</text>
<text x="375.43" y="324.30" class="xl">20</text>
<text x="409.10" y="324.30" class="xl">30</text>
<text x="359.40" y="333.30" class="xl">time(s)</text>
<text id="labB7" transform="translate(293.95 286.35) rotate(-90)" class="lab" style="font-size:7.46px" text-anchor="middle"><tspan font-style="italic">T&#x302;</tspan><tspan font-size="62%" dy="-2.6">+</tspan><tspan font-size="58%" dx="-2.5" dy="4.0">cL</tspan><tspan dy="-1.4"> (Nm)</tspan></text>
<polyline points="439.60,305.18 439.94,304.14 440.27,302.80 440.61,301.51 440.78,300.84 440.95,300.11 441.28,298.61 441.62,296.92 441.96,295.36 442.06,295.22 442.29,294.44 442.63,293.58 442.97,293.25 443.30,294.15 443.64,295.59 443.98,296.81 444.18,296.97 444.31,296.98 444.65,295.27 444.99,293.32 445.16,292.79 445.32,292.26 445.66,291.56 446.00,290.88 446.33,290.47 446.67,290.30 447.01,290.13 447.34,290.04 447.68,290.11 448.02,290.31 448.35,290.48 448.69,290.48 449.03,290.49 449.03,290.77 449.36,290.91 449.70,291.04 450.04,291.11 450.37,291.51 450.71,291.78 450.88,291.89 451.05,292.17 451.38,292.66 451.72,293.21 452.06,293.75 452.39,294.40 452.73,295.26 452.73,295.04 453.07,296.11 453.40,297.16 453.74,297.53 454.08,296.61 454.41,294.82 454.75,292.90 455.09,291.91 455.09,291.86 455.42,292.59 455.76,293.71 456.10,295.11 456.43,295.79 456.77,295.48 457.11,294.59 457.44,293.61 457.78,292.59 458.12,291.88 458.45,290.88 458.79,290.16 459.13,289.28 459.46,288.87 459.70,288.80 459.80,288.70 460.14,288.85 460.47,288.73 460.81,288.65 461.15,288.83 461.48,288.77 461.82,288.58 462.16,288.65 462.49,288.79 462.83,288.74 463.17,288.65 463.50,288.75 463.84,288.53 464.18,288.59 464.51,288.45 464.85,288.40 465.19,288.90 465.36,288.78 465.52,288.69 465.86,288.46 466.20,288.25 466.53,288.27 466.87,287.95 467.21,288.10 467.54,288.23 467.88,288.60 468.22,288.82 468.55,289.21 468.89,289.44 469.23,289.61 469.56,289.37 469.90,289.30 470.24,288.86 470.57,288.74 470.91,288.30 471.25,288.18 471.58,288.13 471.92,288.04 472.26,288.36 472.59,288.53 472.93,288.87 473.27,289.01 473.60,289.08 473.94,289.13 474.28,289.02 474.61,288.83 474.95,288.68 475.29,288.56 475.62,288.57 475.96,288.67 476.30,288.94 476.63,289.42 476.97,289.88 477.31,290.42 477.64,290.83 477.98,291.05 478.32,291.15 478.65,291.01 478.65,291.00 478.99,290.76 479.33,290.46 479.66,290.17 480.00,290.00 480.34,289.96 480.67,290.08 481.01,290.31 481.35,290.58 481.68,290.77 482.02,290.97 482.36,290.99 482.69,290.95 483.03,290.75 483.37,290.40 483.70,290.09 484.04,289.89 484.38,289.70 484.71,289.67 485.05,289.83 485.39,290.04 485.72,290.25 486.06,290.51 486.40,290.73 486.73,290.78 487.07,290.65 487.41,290.44 487.41,290.46 487.74,290.12 488.08,289.80 488.42,289.50 488.75,289.32 489.09,289.26 489.43,289.35 489.76,289.55 490.10,289.79 490.44,289.94 490.77,290.08 491.11,290.12 491.45,290.01 491.78,289.78 492.12,289.44 492.46,289.14 492.79,288.80 493.13,288.65 493.47,288.81 493.80,288.92 494.14,289.02 494.48,289.12 494.81,289.26 495.15,289.32 495.49,289.35 495.82,289.26 496.16,289.10 496.50,288.89 496.83,288.70 497.17,288.48 497.51,288.39 497.84,288.32 498.18,288.39 498.52,288.54 498.85,288.65 499.19,288.80 499.53,288.85 499.86,288.87 500.20,288.82 500.54,288.73 500.87,288.52 501.21,288.33 501.55,288.22 501.88,288.11 502.22,288.07 502.56,288.17 502.89,288.30 503.23,288.49 503.57,288.69 503.90,288.87 504.24,288.91 504.58,288.89 504.91,288.87 505.25,288.77 505.59,288.65 505.92,288.52 506.26,288.54 506.60,288.54 506.93,288.67 507.27,288.91 507.61,289.13 507.94,289.32 508.28,289.49 508.62,289.54 508.95,289.58 509.29,289.45 509.63,289.34 509.96,289.18 509.96,289.15 510.30,288.97 510.64,288.94 510.97,288.95 511.31,288.97 511.65,289.17 511.98,289.27 512.32,289.49 512.66,289.62 512.99,289.66 513.33,289.56 513.67,289.51 514.00,289.34 514.34,289.18 514.68,289.01 515.01,288.90 515.35,288.93 515.69,289.01 516.02,289.12 516.36,289.31 516.70,289.49 517.03,289.61 517.37,289.62 517.71,289.61 518.04,289.51 518.38,289.35 518.72,289.12 519.05,288.99 519.39,288.90 519.73,288.92 520.06,288.97 520.40,289.11 520.74,289.33 521.07,289.46 521.41,289.57 521.75,289.60 522.08,289.58 522.42,289.50 522.76,289.33 523.09,289.17 523.43,289.03 523.77,288.96 524.10,288.88 524.44,289.01 524.78,289.11 525.11,289.29 525.11,289.27 525.45,289.49 525.79,289.54 526.12,289.62 526.46,289.54 526.80,289.45 527.13,289.24 527.47,289.03 527.81,288.93 528.14,288.76 528.48,288.75 528.82,288.78 529.15,288.89 529.49,289.05 529.83,289.14 530.16,289.23 530.50,289.28 530.84,289.19 531.17,289.09 531.51,288.90 531.85,288.62 532.18,288.50 532.52,288.36 532.86,288.31 533.19,288.41 533.53,288.49 533.87,288.62 534.20,288.77 534.54,288.83 534.88,288.88 535.21,288.79 535.55,288.69 535.89,288.47 536.22,288.28 536.56,288.11 536.90,287.93 537.23,287.94 537.57,287.96 537.91,288.07 538.24,288.21 538.58,288.34 538.92,288.43 539.25,288.39 539.59,288.35 539.93,288.20 540.26,287.98 540.60,287.75" class="c"/>
<path d="M439.10 260.50H541.10 M439.10 315.30H541.10" class="h"/>
<path d="M439.60 260.50V315.30 M540.60 260.50V315.30" class="v"/>
<path d="M473.27 260.50v1.2M473.27 315.30v-1.2M506.93 260.50v1.2M506.93 315.30v-1.2M439.60 287.90h1.2M540.60 287.90h-1.2" class="t"/>
<text x="438.70" y="318.00" class="yl">-4</text>
<text x="438.70" y="290.60" class="yl">-2</text>
<text x="438.70" y="263.20" class="yl">0</text>
<text x="441.20" y="324.30" class="xl">0</text>
<text x="474.87" y="324.30" class="xl">10</text>
<text x="508.53" y="324.30" class="xl">20</text>
<text x="542.20" y="324.30" class="xl">30</text>
<text x="492.50" y="333.30" class="xl">time(s)</text>
<text id="labB8" transform="translate(425.95 284.90) rotate(-90)" class="lab" style="font-size:7.32px" text-anchor="middle"><tspan font-style="italic">T&#x302;</tspan><tspan font-size="62%" dy="-2.6">-</tspan><tspan font-size="58%" dx="-2.5" dy="4.0">cL</tspan><tspan dy="-1.4"> (Nm)</tspan></text>
<polyline points="25.00,380.69 25.00,386.66 29.34,386.66 29.34,385.17 31.87,385.17 31.87,387.03 35.49,387.03 35.49,385.54 39.47,385.54 39.47,384.05 42.00,384.05 42.00,382.93 43.81,382.93 43.81,385.91 45.98,385.91 45.98,387.03 48.51,387.03 48.51,384.80 51.04,384.80 51.04,385.91 54.66,385.91 54.66,384.80 58.63,384.80 58.63,384.05 62.25,384.05 62.25,385.54 66.23,385.54 66.23,385.91 69.85,385.91 69.85,386.29 73.83,386.29 73.83,385.91 77.80,385.91 77.80,386.66 81.42,386.66 81.42,385.17 85.40,385.17 85.40,387.78 89.02,387.78 89.02,385.91 92.27,385.91 92.27,384.05 96.25,384.05 96.25,384.80 100.59,384.80 100.59,385.54 104.57,385.54 104.57,386.29 109.63,386.29 109.63,388.90 112.16,388.90 112.16,385.91 115.78,385.91 115.78,387.03 119.76,387.03 119.76,387.78 123.73,387.78 123.73,384.80 127.35,384.80 127.35,386.29 130.61,386.29 130.61,384.05 133.50,384.05" class="c"/>
<path d="M24.50 341.90H134.00 M24.50 416.50H134.00" class="h"/>
<path d="M25.00 341.90V416.50 M133.50 341.90V416.50" class="v"/>
<path d="M61.17 341.90v1.2M61.17 416.50v-1.2M97.33 341.90v1.2M97.33 416.50v-1.2M25.00 397.85h1.2M133.50 397.85h-1.2M25.00 379.20h1.2M133.50 379.20h-1.2M25.00 360.55h1.2M133.50 360.55h-1.2" class="t"/>
<text x="24.10" y="419.20" class="yl">0</text>
<text x="24.10" y="400.55" class="yl">0.5</text>
<text x="24.10" y="381.90" class="yl">1</text>
<text x="24.10" y="363.25" class="yl">1.5</text>
<text x="25.80" y="425.70" class="xl">0</text>
<text x="61.97" y="425.70" class="xl">10</text>
<text x="98.13" y="425.70" class="xl">20</text>
<text x="134.30" y="425.70" class="xl">30</text>
<text x="79.45" y="434.70" class="xl">time(s)</text>
<text id="labA9" transform="translate(8.25 376.40) rotate(-90)" class="lab" style="font-size:7.34px" text-anchor="middle"><tspan>2&#916;</tspan><tspan style="font-family:'Liberation Sans',Arial,sans-serif">(arcmin)</tspan></text>
<polyline points="309.00,373.95 309.86,373.95 309.86,374.93 311.07,374.93 311.07,376.40 313.15,376.40 313.15,375.91 315.91,375.91 315.91,374.44 317.64,374.44 317.64,375.91 319.37,375.91 319.37,379.33 320.41,379.33 320.41,374.44 321.44,374.44 321.44,381.77 322.48,381.77 322.48,377.62 323.52,377.62 323.52,382.99 324.56,382.99 324.56,376.64 325.59,376.64 325.59,372.00 326.63,372.00 326.63,372.49 328.70,372.49 328.70,373.95 330.78,373.95 330.78,376.40 332.85,376.40 332.85,374.93 333.89,374.93 333.89,378.11 335.96,378.11 335.96,379.57 338.04,379.57 338.04,377.13 340.11,377.13 340.11,373.95 343.57,373.95 343.57,375.91 345.64,375.91 345.64,375.42 348.06,375.42 348.06,372.00 351.17,372.00 351.17,374.44 353.25,374.44 353.25,378.11 353.94,378.11 353.94,379.57 354.97,379.57 354.97,373.95 357.05,373.95 357.05,373.22 359.12,373.22 359.12,370.29 361.20,370.29 361.20,374.93 362.58,374.93 362.58,378.11 364.31,378.11 364.31,375.91 367.76,375.91 367.76,371.51 370.53,371.51 370.53,369.31 372.60,369.31 372.60,374.93 373.99,374.93 373.99,378.11 375.37,378.11 375.37,373.22 377.44,373.22 377.44,382.02 379.52,382.02 379.52,378.35 380.90,378.35 380.90,373.95 383.32,373.95 383.32,373.22 385.39,373.22 385.39,370.78 388.16,370.78 388.16,374.44 389.89,374.44 389.89,378.11 391.27,378.11 391.27,381.04 393.69,381.04 393.69,373.95 395.76,373.95 395.76,367.84 397.49,367.84 397.49,370.78 399.22,370.78 399.22,371.75 400.95,371.75 400.95,375.91 403.02,375.91 403.02,379.08 405.10,379.08 405.10,374.93 406.82,374.93 406.82,378.35 408.90,378.35 408.90,375.42 410.97,375.42 410.97,374.44 412.70,374.44" class="c"/>
<path d="M308.50 343.90H413.20 M308.50 417.20H413.20" class="h"/>
<path d="M309.00 343.90V417.20 M412.70 343.90V417.20" class="v"/>
<path d="M343.57 343.90v1.2M343.57 417.20v-1.2M378.13 343.90v1.2M378.13 417.20v-1.2M309.00 392.77h1.2M412.70 392.77h-1.2M309.00 368.33h1.2M412.70 368.33h-1.2" class="t"/>
<text x="308.10" y="419.90" class="yl">0</text>
<text x="308.10" y="395.47" class="yl">1</text>
<text x="308.10" y="371.03" class="yl">2</text>
<text x="308.10" y="346.60" class="yl">3</text>
<text x="310.50" y="425.80" class="xl">0</text>
<text x="345.07" y="425.80" class="xl">10</text>
<text x="379.63" y="425.80" class="xl">20</text>
<text x="414.20" y="425.80" class="xl">30</text>
<text x="363.35" y="434.20" class="xl">time(s)</text>
<text id="labB9" transform="translate(292.94 377.40) rotate(-90)" class="lab" style="font-size:7.73px" text-anchor="middle">2&#916;(arcmin)</text>
<line x1="274.5" y1="13.9" x2="274.5" y2="430.4" stroke="#555" stroke-width="1" stroke-dasharray="2.9 1.866"/>
<text x="121.8" y="453.3" class="cap">(<tspan font-weight="bold">a</tspan>)</text>
<text x="402.9" y="453.3" class="cap">(<tspan font-weight="bold">b</tspan>)</text>
</svg></body></html>
